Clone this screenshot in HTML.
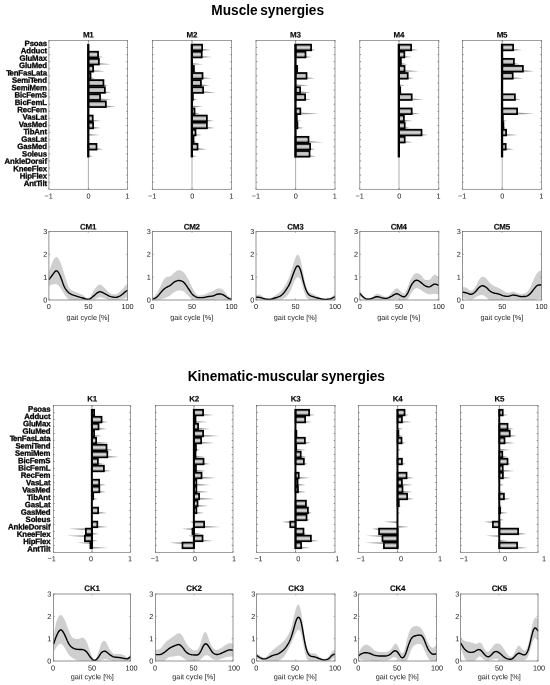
<!DOCTYPE html>
<html lang="en"><head><meta charset="utf-8"><title>Muscle synergies</title>
<style>html,body{margin:0;padding:0;background:#fff}body{width:550px;height:685px;overflow:hidden}svg{display:block;filter:blur(0.4px)}</style></head>
<body>
<svg width="550" height="685" viewBox="0 0 550 685" font-family='"Liberation Sans", Arial, Helvetica, sans-serif'>
<rect width="550" height="685" fill="#fff"/>
<text x="267.7" y="15.4" font-size="14" word-spacing="-1.2" font-weight="bold" text-anchor="middle" fill="#000" textLength="112.7" lengthAdjust="spacingAndGlyphs">Muscle synergies</text>
<text x="286.3" y="381.2" font-size="14" word-spacing="-1.2" font-weight="bold" text-anchor="middle" fill="#000" textLength="197.3" lengthAdjust="spacingAndGlyphs">Kinematic-muscular synergies</text>
<text x="46.9" y="45.95" font-size="7.8" font-weight="bold" text-anchor="end" fill="#000" letter-spacing="-0.13" stroke="#000" stroke-width=".28" transform="rotate(0.05 46.9 45.95)">Psoas</text>
<text x="50.4" y="411.65" font-size="7.8" font-weight="bold" text-anchor="end" fill="#000" letter-spacing="-0.13" stroke="#000" stroke-width=".28" transform="rotate(0.05 50.4 411.65)">Psoas</text>
<text x="46.9" y="53.32" font-size="7.8" font-weight="bold" text-anchor="end" fill="#000" letter-spacing="-0.13" stroke="#000" stroke-width=".28" transform="rotate(0.05 46.9 53.32)">Adduct</text>
<text x="50.4" y="419.01" font-size="7.8" font-weight="bold" text-anchor="end" fill="#000" letter-spacing="-0.13" stroke="#000" stroke-width=".28" transform="rotate(0.05 50.4 419.01)">Adduct</text>
<text x="46.9" y="60.69" font-size="7.8" font-weight="bold" text-anchor="end" fill="#000" letter-spacing="-0.13" stroke="#000" stroke-width=".28" transform="rotate(0.05 46.9 60.69)">GluMax</text>
<text x="50.4" y="426.37" font-size="7.8" font-weight="bold" text-anchor="end" fill="#000" letter-spacing="-0.13" stroke="#000" stroke-width=".28" transform="rotate(0.05 50.4 426.37)">GluMax</text>
<text x="46.9" y="68.06" font-size="7.8" font-weight="bold" text-anchor="end" fill="#000" letter-spacing="-0.13" stroke="#000" stroke-width=".28" transform="rotate(0.05 46.9 68.06)">GluMed</text>
<text x="50.4" y="433.73" font-size="7.8" font-weight="bold" text-anchor="end" fill="#000" letter-spacing="-0.13" stroke="#000" stroke-width=".28" transform="rotate(0.05 50.4 433.73)">GluMed</text>
<text x="46.9" y="75.43" font-size="7.8" font-weight="bold" text-anchor="end" fill="#000" letter-spacing="-0.13" stroke="#000" stroke-width=".28" dx="0 -0.75" transform="rotate(0.05 46.9 75.43)">TenFasLata</text>
<text x="50.4" y="441.09" font-size="7.8" font-weight="bold" text-anchor="end" fill="#000" letter-spacing="-0.13" stroke="#000" stroke-width=".28" dx="0 -0.75" transform="rotate(0.05 50.4 441.09)">TenFasLata</text>
<text x="46.9" y="82.8" font-size="7.8" font-weight="bold" text-anchor="end" fill="#000" letter-spacing="-0.13" stroke="#000" stroke-width=".28" dx="0 0 0 0 0 -0.75" transform="rotate(0.05 46.9 82.8)">SemiTend</text>
<text x="50.4" y="448.45" font-size="7.8" font-weight="bold" text-anchor="end" fill="#000" letter-spacing="-0.13" stroke="#000" stroke-width=".28" dx="0 0 0 0 0 -0.75" transform="rotate(0.05 50.4 448.45)">SemiTend</text>
<text x="46.9" y="90.17" font-size="7.8" font-weight="bold" text-anchor="end" fill="#000" letter-spacing="-0.13" stroke="#000" stroke-width=".28" transform="rotate(0.05 46.9 90.17)">SemiMem</text>
<text x="50.4" y="455.81" font-size="7.8" font-weight="bold" text-anchor="end" fill="#000" letter-spacing="-0.13" stroke="#000" stroke-width=".28" transform="rotate(0.05 50.4 455.81)">SemiMem</text>
<text x="46.9" y="97.54" font-size="7.8" font-weight="bold" text-anchor="end" fill="#000" letter-spacing="-0.13" stroke="#000" stroke-width=".28" transform="rotate(0.05 46.9 97.54)">BicFemS</text>
<text x="50.4" y="463.17" font-size="7.8" font-weight="bold" text-anchor="end" fill="#000" letter-spacing="-0.13" stroke="#000" stroke-width=".28" transform="rotate(0.05 50.4 463.17)">BicFemS</text>
<text x="46.9" y="104.91" font-size="7.8" font-weight="bold" text-anchor="end" fill="#000" letter-spacing="-0.13" stroke="#000" stroke-width=".28" transform="rotate(0.05 46.9 104.91)">BicFemL</text>
<text x="50.4" y="470.53" font-size="7.8" font-weight="bold" text-anchor="end" fill="#000" letter-spacing="-0.13" stroke="#000" stroke-width=".28" transform="rotate(0.05 50.4 470.53)">BicFemL</text>
<text x="46.9" y="112.28" font-size="7.8" font-weight="bold" text-anchor="end" fill="#000" letter-spacing="-0.13" stroke="#000" stroke-width=".28" transform="rotate(0.05 46.9 112.28)">RecFem</text>
<text x="50.4" y="477.89" font-size="7.8" font-weight="bold" text-anchor="end" fill="#000" letter-spacing="-0.13" stroke="#000" stroke-width=".28" transform="rotate(0.05 50.4 477.89)">RecFem</text>
<text x="46.9" y="119.65" font-size="7.8" font-weight="bold" text-anchor="end" fill="#000" letter-spacing="-0.13" stroke="#000" stroke-width=".28" transform="rotate(0.05 46.9 119.65)">VasLat</text>
<text x="50.4" y="485.25" font-size="7.8" font-weight="bold" text-anchor="end" fill="#000" letter-spacing="-0.13" stroke="#000" stroke-width=".28" transform="rotate(0.05 50.4 485.25)">VasLat</text>
<text x="46.9" y="127.02" font-size="7.8" font-weight="bold" text-anchor="end" fill="#000" letter-spacing="-0.13" stroke="#000" stroke-width=".28" transform="rotate(0.05 46.9 127.02)">VasMed</text>
<text x="50.4" y="492.61" font-size="7.8" font-weight="bold" text-anchor="end" fill="#000" letter-spacing="-0.13" stroke="#000" stroke-width=".28" transform="rotate(0.05 50.4 492.61)">VasMed</text>
<text x="46.9" y="134.39" font-size="7.8" font-weight="bold" text-anchor="end" fill="#000" letter-spacing="-0.13" stroke="#000" stroke-width=".28" dx="0 -0.4" transform="rotate(0.05 46.9 134.39)">TibAnt</text>
<text x="50.4" y="499.97" font-size="7.8" font-weight="bold" text-anchor="end" fill="#000" letter-spacing="-0.13" stroke="#000" stroke-width=".28" dx="0 -0.4" transform="rotate(0.05 50.4 499.97)">TibAnt</text>
<text x="46.9" y="141.76" font-size="7.8" font-weight="bold" text-anchor="end" fill="#000" letter-spacing="-0.13" stroke="#000" stroke-width=".28" transform="rotate(0.05 46.9 141.76)">GasLat</text>
<text x="50.4" y="507.33" font-size="7.8" font-weight="bold" text-anchor="end" fill="#000" letter-spacing="-0.13" stroke="#000" stroke-width=".28" transform="rotate(0.05 50.4 507.33)">GasLat</text>
<text x="46.9" y="149.13" font-size="7.8" font-weight="bold" text-anchor="end" fill="#000" letter-spacing="-0.13" stroke="#000" stroke-width=".28" transform="rotate(0.05 46.9 149.13)">GasMed</text>
<text x="50.4" y="514.69" font-size="7.8" font-weight="bold" text-anchor="end" fill="#000" letter-spacing="-0.13" stroke="#000" stroke-width=".28" transform="rotate(0.05 50.4 514.69)">GasMed</text>
<text x="46.9" y="156.5" font-size="7.8" font-weight="bold" text-anchor="end" fill="#000" letter-spacing="-0.13" stroke="#000" stroke-width=".28" transform="rotate(0.05 46.9 156.5)">Soleus</text>
<text x="50.4" y="522.05" font-size="7.8" font-weight="bold" text-anchor="end" fill="#000" letter-spacing="-0.13" stroke="#000" stroke-width=".28" transform="rotate(0.05 50.4 522.05)">Soleus</text>
<text x="46.9" y="163.87" font-size="7.8" font-weight="bold" text-anchor="end" fill="#000" letter-spacing="-0.13" stroke="#000" stroke-width=".28" transform="rotate(0.05 46.9 163.87)">AnkleDorsif</text>
<text x="50.4" y="529.41" font-size="7.8" font-weight="bold" text-anchor="end" fill="#000" letter-spacing="-0.13" stroke="#000" stroke-width=".28" transform="rotate(0.05 50.4 529.41)">AnkleDorsif</text>
<text x="46.9" y="171.24" font-size="7.8" font-weight="bold" text-anchor="end" fill="#000" letter-spacing="-0.13" stroke="#000" stroke-width=".28" transform="rotate(0.05 46.9 171.24)">KneeFlex</text>
<text x="50.4" y="536.77" font-size="7.8" font-weight="bold" text-anchor="end" fill="#000" letter-spacing="-0.13" stroke="#000" stroke-width=".28" transform="rotate(0.05 50.4 536.77)">KneeFlex</text>
<text x="46.9" y="178.61" font-size="7.8" font-weight="bold" text-anchor="end" fill="#000" letter-spacing="-0.13" stroke="#000" stroke-width=".28" transform="rotate(0.05 46.9 178.61)">HipFlex</text>
<text x="50.4" y="544.13" font-size="7.8" font-weight="bold" text-anchor="end" fill="#000" letter-spacing="-0.13" stroke="#000" stroke-width=".28" transform="rotate(0.05 50.4 544.13)">HipFlex</text>
<text x="46.9" y="185.98" font-size="7.8" font-weight="bold" text-anchor="end" fill="#000" letter-spacing="-0.13" stroke="#000" stroke-width=".28" dx="0 0 0 0 -0.4" transform="rotate(0.05 46.9 185.98)">AntTilt</text>
<text x="50.4" y="551.49" font-size="7.8" font-weight="bold" text-anchor="end" fill="#000" letter-spacing="-0.13" stroke="#000" stroke-width=".28" dx="0 0 0 0 -0.4" transform="rotate(0.05 50.4 551.49)">AntTilt</text>
<g>
<path d="M97.65 55.88L103 57.08L97.65 57.78Z" fill="#8a8a8a" opacity=".85"/>
<path d="M98.47 62.97L111 64.17L98.47 64.87Z" fill="#8a8a8a" opacity=".85"/>
<path d="M92.69 70.06L105 71.26L92.69 71.96Z" fill="#8a8a8a" opacity=".85"/>
<path d="M90.09 77.15L95 78.35L90.09 79.05Z" fill="#8a8a8a" opacity=".85"/>
<path d="M103.04 84.24L108 85.44L103.04 86.14Z" fill="#8a8a8a" opacity=".85"/>
<path d="M104.45 91.33L111 92.53L104.45 93.23Z" fill="#8a8a8a" opacity=".85"/>
<path d="M99.65 98.42L112 99.62L99.65 100.32Z" fill="#8a8a8a" opacity=".85"/>
<path d="M105.44 105.51L116 106.71L105.44 107.41Z" fill="#8a8a8a" opacity=".85"/>
<path d="M92.3 119.7L101 120.9L92.3 121.6Z" fill="#8a8a8a" opacity=".85"/>
<path d="M92.69 126.79L101 127.99L92.69 128.69Z" fill="#8a8a8a" opacity=".85"/>
<path d="M88.4 133.88L100 135.08L88.4 135.78Z" fill="#8a8a8a" opacity=".85"/>
<path d="M96.07 148.06L103 149.26L96.07 149.96Z" fill="#8a8a8a" opacity=".85"/>
<path d="M88.4 155.15L93 156.35L88.4 157.05Z" fill="#8a8a8a" opacity=".85"/>
<line x1="88.4" y1="40.4" x2="88.4" y2="189.3" stroke="#8a8a8a" stroke-width=".7"/>
<rect x="88.4" y="51.74" width="9.65" height="5.67" fill="#bababa" stroke="#000" stroke-width="1.75"/>
<line x1="89.3" y1="54.58" x2="97.15" y2="54.58" stroke="#dedede" stroke-width=".8"/>
<rect x="88.4" y="58.84" width="10.47" height="5.67" fill="#bababa" stroke="#000" stroke-width="1.75"/>
<line x1="89.3" y1="61.67" x2="97.97" y2="61.67" stroke="#dedede" stroke-width=".8"/>
<rect x="88.4" y="65.93" width="4.69" height="5.67" fill="#bababa" stroke="#000" stroke-width="1.75"/>
<line x1="89.3" y1="68.76" x2="92.19" y2="68.76" stroke="#dedede" stroke-width=".8"/>
<rect x="88.4" y="73.02" width="2.09" height="5.67" fill="#bababa" stroke="#000" stroke-width="1.75"/>
<rect x="88.4" y="80.11" width="15.04" height="5.67" fill="#bababa" stroke="#000" stroke-width="1.75"/>
<line x1="89.3" y1="82.94" x2="102.54" y2="82.94" stroke="#dedede" stroke-width=".8"/>
<rect x="88.4" y="87.2" width="16.45" height="5.67" fill="#bababa" stroke="#000" stroke-width="1.75"/>
<line x1="89.3" y1="90.03" x2="103.95" y2="90.03" stroke="#dedede" stroke-width=".8"/>
<rect x="88.4" y="94.29" width="11.65" height="5.67" fill="#bababa" stroke="#000" stroke-width="1.75"/>
<line x1="89.3" y1="97.12" x2="99.15" y2="97.12" stroke="#dedede" stroke-width=".8"/>
<rect x="88.4" y="101.38" width="17.44" height="5.67" fill="#bababa" stroke="#000" stroke-width="1.75"/>
<line x1="89.3" y1="104.21" x2="104.94" y2="104.21" stroke="#dedede" stroke-width=".8"/>
<rect x="88.4" y="115.56" width="4.3" height="5.67" fill="#bababa" stroke="#000" stroke-width="1.75"/>
<line x1="89.3" y1="118.4" x2="91.8" y2="118.4" stroke="#dedede" stroke-width=".8"/>
<rect x="88.4" y="122.65" width="4.69" height="5.67" fill="#bababa" stroke="#000" stroke-width="1.75"/>
<line x1="89.3" y1="125.49" x2="92.19" y2="125.49" stroke="#dedede" stroke-width=".8"/>
<rect x="88.4" y="143.92" width="8.07" height="5.67" fill="#bababa" stroke="#000" stroke-width="1.75"/>
<line x1="89.3" y1="146.76" x2="95.57" y2="146.76" stroke="#dedede" stroke-width=".8"/>
<line x1="88.25" y1="43.9" x2="88.25" y2="157.43" stroke="#000" stroke-width="2.3"/>
<rect x="48.9" y="40.4" width="78.7" height="148.9" fill="none" stroke="#6c6c6c" stroke-width=".65"/>
<path d="M48.9 47.49h1.3M127.6 47.49h-1.3M48.9 54.58h1.3M127.6 54.58h-1.3M48.9 61.67h1.3M127.6 61.67h-1.3M48.9 68.76h1.3M127.6 68.76h-1.3M48.9 75.85h1.3M127.6 75.85h-1.3M48.9 82.94h1.3M127.6 82.94h-1.3M48.9 90.03h1.3M127.6 90.03h-1.3M48.9 97.12h1.3M127.6 97.12h-1.3M48.9 104.21h1.3M127.6 104.21h-1.3M48.9 111.3h1.3M127.6 111.3h-1.3M48.9 118.4h1.3M127.6 118.4h-1.3M48.9 125.49h1.3M127.6 125.49h-1.3M48.9 132.58h1.3M127.6 132.58h-1.3M48.9 139.67h1.3M127.6 139.67h-1.3M48.9 146.76h1.3M127.6 146.76h-1.3M48.9 153.85h1.3M127.6 153.85h-1.3M48.9 160.94h1.3M127.6 160.94h-1.3M48.9 168.03h1.3M127.6 168.03h-1.3M48.9 175.12h1.3M127.6 175.12h-1.3M48.9 182.21h1.3M127.6 182.21h-1.3M48.9 40.4v1.3M48.9 189.3v-1.3M88.4 40.4v1.3M88.4 189.3v-1.3M127.6 40.4v1.3M127.6 189.3v-1.3" stroke="#5a5a5a" stroke-width=".65" fill="none"/>
<text x="48.7" y="198.4" font-size="7.3" font-weight="normal" text-anchor="middle" fill="#1c1c1c" transform="rotate(0.05 48.7 198.4)">−1</text>
<text x="88.6" y="198.4" font-size="7.3" font-weight="normal" text-anchor="middle" fill="#1c1c1c" transform="rotate(0.05 88.6 198.4)">0</text>
<text x="127.4" y="198.4" font-size="7.3" font-weight="normal" text-anchor="middle" fill="#1c1c1c" transform="rotate(0.05 127.4 198.4)">1</text>
<text x="88.2" y="37.4" font-size="8.0" font-weight="bold" text-anchor="middle" fill="#0a0a0a" letter-spacing="-0.25" stroke="#0a0a0a" stroke-width=".15" transform="rotate(0.05 88.2 37.4)">M1</text>
</g>
<g>
<path d="M48.9 271.68L49.69 269.8L50.47 267.44L51.26 265.03L52.05 262.97L52.84 261.25L53.62 259.79L54.41 258.57L55.2 257.63L55.98 257.09L56.77 257.05L57.56 257.56L58.34 258.5L59.13 259.77L59.92 261.3L60.7 263.13L61.49 265.28L62.28 267.71L63.07 270.29L63.85 272.85L64.64 275.35L65.43 277.78L66.21 280.21L67 282.58L67.79 284.79L68.57 286.66L69.36 288.09L70.15 289.07L70.94 289.74L71.72 290.21L72.51 290.6L73.3 290.95L74.08 291.29L74.87 291.63L75.66 291.98L76.44 292.31L77.23 292.64L78.02 292.95L78.81 293.26L79.59 293.58L80.38 293.9L81.17 294.25L81.95 294.62L82.74 295.04L83.53 295.55L84.31 296.13L85.1 296.76L85.89 297.37L86.68 297.9L87.46 298.24L88.25 298.27L89.04 297.88L89.82 297.05L90.61 295.89L91.4 294.58L92.19 293.23L92.97 291.87L93.76 290.56L94.55 289.35L95.33 288.26L96.12 287.27L96.91 286.36L97.69 285.58L98.48 285L99.27 284.67L100.05 284.63L100.84 284.86L101.63 285.32L102.42 285.94L103.2 286.64L103.99 287.36L104.78 288.1L105.56 288.88L106.35 289.71L107.14 290.58L107.92 291.43L108.71 292.21L109.5 292.85L110.29 293.33L111.07 293.66L111.86 293.88L112.65 294.05L113.43 294.19L114.22 294.29L115.01 294.33L115.79 294.27L116.58 294.06L117.37 293.68L118.16 293.14L118.94 292.5L119.73 291.8L120.52 291.08L121.3 290.32L122.09 289.5L122.88 288.62L123.66 287.71L124.45 286.79L125.24 285.85L126.03 284.91L126.81 284.07L127.6 283.43L127.6 297.18L126.81 297.44L126.03 297.78L125.24 298.13L124.45 298.45L123.66 298.74L122.88 299.01L122.09 299.25L121.3 299.44L120.52 299.59L119.73 299.7L118.94 299.79L118.16 299.87L117.37 299.93L116.58 299.97L115.79 299.99L115.01 300L114.22 300L113.43 300L112.65 300L111.86 300L111.07 299.99L110.29 299.94L109.5 299.84L108.71 299.68L107.92 299.46L107.14 299.21L106.35 298.95L105.56 298.68L104.78 298.42L103.99 298.16L103.2 297.89L102.42 297.62L101.63 297.38L100.84 297.19L100.05 297.12L99.27 297.21L98.48 297.49L97.69 297.93L96.91 298.44L96.12 298.93L95.33 299.31L94.55 299.54L93.76 299.66L92.97 299.73L92.19 299.78L91.4 299.83L90.61 299.88L89.82 299.93L89.04 299.97L88.25 299.99L87.46 300L86.68 300L85.89 300L85.1 300L84.31 300L83.53 300L82.74 300L81.95 300L81.17 300L80.38 300L79.59 300L78.81 300L78.02 300L77.23 300L76.44 300L75.66 300L74.87 300L74.08 300L73.3 300L72.51 300L71.72 300L70.94 299.99L70.15 299.93L69.36 299.73L68.57 299.31L67.79 298.65L67 297.79L66.21 296.8L65.43 295.76L64.64 294.66L63.85 293.47L63.07 292.17L62.28 290.81L61.49 289.48L60.7 288.25L59.92 287.15L59.13 286.17L58.34 285.33L57.56 284.67L56.77 284.26L55.98 284.09L55.2 284.09L54.41 284.17L53.62 284.29L52.84 284.44L52.05 284.64L51.26 284.9L50.47 285.22L49.69 285.55L48.9 285.81Z" fill="#cfcfcf"/>
<path d="M48.9 279.46L49.69 278.68L50.47 277.66L51.26 276.56L52.05 275.48L52.84 274.42L53.62 273.35L54.41 272.3L55.2 271.43L55.98 270.91L56.77 270.89L57.56 271.43L58.34 272.42L59.13 273.73L59.92 275.28L60.7 277.08L61.49 279.15L62.28 281.39L63.07 283.63L63.85 285.67L64.64 287.38L65.43 288.78L66.21 289.94L67 290.94L67.79 291.83L68.57 292.58L69.36 293.21L70.15 293.73L70.94 294.14L71.72 294.5L72.51 294.81L73.3 295.09L74.08 295.36L74.87 295.62L75.66 295.89L76.44 296.14L77.23 296.4L78.02 296.64L78.81 296.88L79.59 297.11L80.38 297.33L81.17 297.56L81.95 297.78L82.74 298L83.53 298.24L84.31 298.48L85.1 298.73L85.89 298.96L86.68 299.15L87.46 299.27L88.25 299.28L89.04 299.13L89.82 298.81L90.61 298.36L91.4 297.81L92.19 297.21L92.97 296.55L93.76 295.86L94.55 295.16L95.33 294.47L96.12 293.79L96.91 293.13L97.69 292.53L98.48 292.08L99.27 291.81L100.05 291.74L100.84 291.86L101.63 292.12L102.42 292.46L103.2 292.85L103.99 293.25L104.78 293.65L105.56 294.06L106.35 294.49L107.14 294.93L107.92 295.38L108.71 295.79L109.5 296.15L110.29 296.44L111.07 296.68L111.86 296.87L112.65 297.03L113.43 297.17L114.22 297.28L115.01 297.34L115.79 297.33L116.58 297.23L117.37 297.04L118.16 296.76L118.94 296.43L119.73 296.04L120.52 295.61L121.3 295.12L122.09 294.54L122.88 293.9L123.66 293.22L124.45 292.55L125.24 291.9L126.03 291.26L126.81 290.7L127.6 290.28" fill="none" stroke="#000" stroke-width="1.4" stroke-linejoin="round"/>
<rect x="48.9" y="231.4" width="78.7" height="68.6" fill="none" stroke="#787878" stroke-width=".8"/>
<path d="M48.9 300h1.4M127.6 300h-1.4M48.9 277.13h1.4M127.6 277.13h-1.4M48.9 254.27h1.4M127.6 254.27h-1.4M48.9 231.4h1.4M127.6 231.4h-1.4M48.9 231.4v1.4M48.9 300v-1.4M88.25 231.4v1.4M88.25 300v-1.4M127.6 231.4v1.4M127.6 300v-1.4" stroke="#787878" stroke-width=".6" fill="none"/>
<text x="47.2" y="302.6" font-size="7.3" font-weight="normal" text-anchor="end" fill="#1c1c1c" transform="rotate(0.05 47.2 302.6)">0</text>
<text x="47.2" y="279.73" font-size="7.3" font-weight="normal" text-anchor="end" fill="#1c1c1c" transform="rotate(0.05 47.2 279.73)">1</text>
<text x="47.2" y="256.87" font-size="7.3" font-weight="normal" text-anchor="end" fill="#1c1c1c" transform="rotate(0.05 47.2 256.87)">2</text>
<text x="47.2" y="234" font-size="7.3" font-weight="normal" text-anchor="end" fill="#1c1c1c" transform="rotate(0.05 47.2 234)">3</text>
<text x="48.9" y="309.1" font-size="7.3" font-weight="normal" text-anchor="middle" fill="#1c1c1c" transform="rotate(0.05 48.9 309.1)">0</text>
<text x="88.4" y="309.1" font-size="7.3" font-weight="normal" text-anchor="middle" fill="#1c1c1c" transform="rotate(0.05 88.4 309.1)">50</text>
<text x="127.6" y="309.1" font-size="7.3" font-weight="normal" text-anchor="middle" fill="#1c1c1c" transform="rotate(0.05 127.6 309.1)">100</text>
<text x="88.1" y="319.9" font-size="7.3" font-weight="normal" text-anchor="middle" fill="#1c1c1c" transform="rotate(0.05 88.1 319.9)">gait cycle [%]</text>
<text x="88.1" y="229.4" font-size="8.0" font-weight="bold" text-anchor="middle" fill="#0a0a0a" letter-spacing="-0.25" stroke="#0a0a0a" stroke-width=".15" transform="rotate(0.05 88.1 229.4)">CM1</text>
</g>
<g>
<path d="M201.7 48.79L211 49.99L201.7 50.69Z" fill="#8a8a8a" opacity=".85"/>
<path d="M201.31 55.88L212 57.08L201.31 57.78Z" fill="#8a8a8a" opacity=".85"/>
<path d="M192 62.97L203 64.17L192 64.87Z" fill="#8a8a8a" opacity=".85"/>
<path d="M193.5 70.06L196 71.26L193.5 71.96Z" fill="#8a8a8a" opacity=".85"/>
<path d="M202.1 77.15L212 78.35L202.1 79.05Z" fill="#8a8a8a" opacity=".85"/>
<path d="M200.51 84.24L210 85.44L200.51 86.14Z" fill="#8a8a8a" opacity=".85"/>
<path d="M202.69 91.33L216 92.53L202.69 93.23Z" fill="#8a8a8a" opacity=".85"/>
<path d="M192.48 98.42L198 99.62L192.48 100.32Z" fill="#8a8a8a" opacity=".85"/>
<path d="M192 105.51L203 106.71L192 107.41Z" fill="#8a8a8a" opacity=".85"/>
<path d="M194.1 112.6L200 113.8L194.1 114.5Z" fill="#8a8a8a" opacity=".85"/>
<path d="M206.49 119.7L214 120.9L206.49 121.6Z" fill="#8a8a8a" opacity=".85"/>
<path d="M206.49 126.79L215 127.99L206.49 128.69Z" fill="#8a8a8a" opacity=".85"/>
<path d="M195.09 133.88L202 135.08L195.09 135.78Z" fill="#8a8a8a" opacity=".85"/>
<path d="M193.11 140.97L198 142.17L193.11 142.87Z" fill="#8a8a8a" opacity=".85"/>
<path d="M197.11 148.06L207 149.26L197.11 149.96Z" fill="#8a8a8a" opacity=".85"/>
<path d="M192 155.15L197 156.35L192 157.05Z" fill="#8a8a8a" opacity=".85"/>
<line x1="192" y1="40.4" x2="192" y2="189.3" stroke="#8a8a8a" stroke-width=".7"/>
<rect x="192" y="44.65" width="10.1" height="5.67" fill="#bababa" stroke="#000" stroke-width="1.75"/>
<line x1="192.9" y1="47.49" x2="201.2" y2="47.49" stroke="#dedede" stroke-width=".8"/>
<rect x="192" y="51.74" width="9.71" height="5.67" fill="#bababa" stroke="#000" stroke-width="1.75"/>
<line x1="192.9" y1="54.58" x2="200.81" y2="54.58" stroke="#dedede" stroke-width=".8"/>
<rect x="192" y="65.93" width="1.9" height="5.67" fill="#bababa" stroke="#000" stroke-width="1.75"/>
<rect x="192" y="73.02" width="10.5" height="5.67" fill="#bababa" stroke="#000" stroke-width="1.75"/>
<line x1="192.9" y1="75.85" x2="201.6" y2="75.85" stroke="#dedede" stroke-width=".8"/>
<rect x="192" y="80.11" width="8.91" height="5.67" fill="#bababa" stroke="#000" stroke-width="1.75"/>
<line x1="192.9" y1="82.94" x2="200.01" y2="82.94" stroke="#dedede" stroke-width=".8"/>
<rect x="192" y="87.2" width="11.09" height="5.67" fill="#bababa" stroke="#000" stroke-width="1.75"/>
<line x1="192.9" y1="90.03" x2="202.19" y2="90.03" stroke="#dedede" stroke-width=".8"/>
<rect x="192" y="94.29" width="0.88" height="5.67" fill="#bababa" stroke="#000" stroke-width="1.75"/>
<rect x="192" y="108.47" width="2.5" height="5.67" fill="#bababa" stroke="#000" stroke-width="1.75"/>
<line x1="192.9" y1="111.3" x2="193.6" y2="111.3" stroke="#dedede" stroke-width=".8"/>
<rect x="192" y="115.56" width="14.89" height="5.67" fill="#bababa" stroke="#000" stroke-width="1.75"/>
<line x1="192.9" y1="118.4" x2="205.99" y2="118.4" stroke="#dedede" stroke-width=".8"/>
<rect x="192" y="122.65" width="14.89" height="5.67" fill="#bababa" stroke="#000" stroke-width="1.75"/>
<line x1="192.9" y1="125.49" x2="205.99" y2="125.49" stroke="#dedede" stroke-width=".8"/>
<rect x="192" y="129.74" width="3.49" height="5.67" fill="#bababa" stroke="#000" stroke-width="1.75"/>
<line x1="192.9" y1="132.58" x2="194.59" y2="132.58" stroke="#dedede" stroke-width=".8"/>
<rect x="192" y="136.83" width="1.51" height="5.67" fill="#bababa" stroke="#000" stroke-width="1.75"/>
<rect x="192" y="143.92" width="5.51" height="5.67" fill="#bababa" stroke="#000" stroke-width="1.75"/>
<line x1="192.9" y1="146.76" x2="196.61" y2="146.76" stroke="#dedede" stroke-width=".8"/>
<line x1="191.85" y1="43.9" x2="191.85" y2="157.43" stroke="#000" stroke-width="2.3"/>
<rect x="152.4" y="40.4" width="79.2" height="148.9" fill="none" stroke="#6c6c6c" stroke-width=".65"/>
<path d="M152.4 47.49h1.3M231.6 47.49h-1.3M152.4 54.58h1.3M231.6 54.58h-1.3M152.4 61.67h1.3M231.6 61.67h-1.3M152.4 68.76h1.3M231.6 68.76h-1.3M152.4 75.85h1.3M231.6 75.85h-1.3M152.4 82.94h1.3M231.6 82.94h-1.3M152.4 90.03h1.3M231.6 90.03h-1.3M152.4 97.12h1.3M231.6 97.12h-1.3M152.4 104.21h1.3M231.6 104.21h-1.3M152.4 111.3h1.3M231.6 111.3h-1.3M152.4 118.4h1.3M231.6 118.4h-1.3M152.4 125.49h1.3M231.6 125.49h-1.3M152.4 132.58h1.3M231.6 132.58h-1.3M152.4 139.67h1.3M231.6 139.67h-1.3M152.4 146.76h1.3M231.6 146.76h-1.3M152.4 153.85h1.3M231.6 153.85h-1.3M152.4 160.94h1.3M231.6 160.94h-1.3M152.4 168.03h1.3M231.6 168.03h-1.3M152.4 175.12h1.3M231.6 175.12h-1.3M152.4 182.21h1.3M231.6 182.21h-1.3M152.4 40.4v1.3M152.4 189.3v-1.3M192 40.4v1.3M192 189.3v-1.3M231.6 40.4v1.3M231.6 189.3v-1.3" stroke="#5a5a5a" stroke-width=".65" fill="none"/>
<text x="152.2" y="198.4" font-size="7.3" font-weight="normal" text-anchor="middle" fill="#1c1c1c" transform="rotate(0.05 152.2 198.4)">−1</text>
<text x="192.2" y="198.4" font-size="7.3" font-weight="normal" text-anchor="middle" fill="#1c1c1c" transform="rotate(0.05 192.2 198.4)">0</text>
<text x="231.4" y="198.4" font-size="7.3" font-weight="normal" text-anchor="middle" fill="#1c1c1c" transform="rotate(0.05 231.4 198.4)">1</text>
<text x="191.8" y="37.4" font-size="8.0" font-weight="bold" text-anchor="middle" fill="#0a0a0a" letter-spacing="-0.25" stroke="#0a0a0a" stroke-width=".15" transform="rotate(0.05 191.8 37.4)">M2</text>
</g>
<g>
<path d="M152.4 297.54L153.19 297.12L153.98 296.49L154.78 295.7L155.57 294.79L156.36 293.78L157.15 292.63L157.94 291.3L158.74 289.78L159.53 288.12L160.32 286.42L161.11 284.78L161.9 283.21L162.7 281.71L163.49 280.28L164.28 279L165.07 277.98L165.86 277.3L166.66 276.94L167.45 276.76L168.24 276.65L169.03 276.53L169.82 276.32L170.62 275.96L171.41 275.41L172.2 274.7L172.99 273.9L173.78 273.11L174.58 272.4L175.37 271.78L176.16 271.24L176.95 270.77L177.74 270.4L178.54 270.17L179.33 270.13L180.12 270.25L180.91 270.51L181.7 270.88L182.5 271.35L183.29 271.95L184.08 272.75L184.87 273.76L185.66 274.97L186.46 276.29L187.25 277.68L188.04 279.12L188.83 280.62L189.62 282.22L190.42 283.88L191.21 285.53L192 287.11L192.79 288.59L193.58 289.99L194.38 291.36L195.17 292.65L195.96 293.8L196.75 294.68L197.54 295.24L198.34 295.48L199.13 295.52L199.92 295.47L200.71 295.37L201.5 295.25L202.3 295.11L203.09 294.94L203.88 294.73L204.67 294.45L205.46 294.13L206.26 293.78L207.05 293.42L207.84 293.08L208.63 292.76L209.42 292.44L210.22 292.14L211.01 291.83L211.8 291.5L212.59 291.15L213.38 290.75L214.18 290.28L214.97 289.78L215.76 289.3L216.55 288.89L217.34 288.61L218.14 288.46L218.93 288.41L219.72 288.4L220.51 288.45L221.3 288.63L222.1 289.04L222.89 289.68L223.68 290.49L224.47 291.4L225.26 292.37L226.06 293.41L226.85 294.48L227.64 295.5L228.43 296.36L229.22 297.01L230.02 297.46L230.81 297.75L231.6 297.92L231.6 300L230.81 300L230.02 300L229.22 300L228.43 300L227.64 300L226.85 300L226.06 300L225.26 299.97L224.47 299.89L223.68 299.75L222.89 299.57L222.1 299.4L221.3 299.29L220.51 299.25L219.72 299.27L218.93 299.32L218.14 299.4L217.34 299.49L216.55 299.59L215.76 299.71L214.97 299.82L214.18 299.91L213.38 299.96L212.59 299.99L211.8 300L211.01 300L210.22 300L209.42 300L208.63 300L207.84 300L207.05 300L206.26 300L205.46 300L204.67 300L203.88 300L203.09 300L202.3 300L201.5 300L200.71 300L199.92 300L199.13 300L198.34 300L197.54 299.98L196.75 299.96L195.96 299.91L195.17 299.85L194.38 299.77L193.58 299.65L192.79 299.44L192 299.09L191.21 298.57L190.42 297.91L189.62 297.17L188.83 296.4L188.04 295.62L187.25 294.82L186.46 293.99L185.66 293.14L184.87 292.35L184.08 291.71L183.29 291.23L182.5 290.93L181.7 290.72L180.91 290.58L180.12 290.49L179.33 290.45L178.54 290.49L177.74 290.63L176.95 290.84L176.16 291.13L175.37 291.48L174.58 291.91L173.78 292.44L172.99 293.07L172.2 293.77L171.41 294.46L170.62 295.1L169.82 295.65L169.03 296.13L168.24 296.56L167.45 296.95L166.66 297.31L165.86 297.64L165.07 297.96L164.28 298.26L163.49 298.54L162.7 298.79L161.9 299.02L161.11 299.24L160.32 299.44L159.53 299.63L158.74 299.79L157.94 299.9L157.15 299.97L156.36 299.99L155.57 300L154.78 300L153.98 300L153.19 300L152.4 300Z" fill="#cfcfcf"/>
<path d="M152.4 299.11L153.19 298.95L153.98 298.69L154.78 298.33L155.57 297.89L156.36 297.38L157.15 296.78L157.94 296.03L158.74 295.14L159.53 294.13L160.32 293.09L161.11 292.09L161.9 291.17L162.7 290.35L163.49 289.61L164.28 288.92L165.07 288.29L165.86 287.74L166.66 287.27L167.45 286.86L168.24 286.47L169.03 286.08L169.82 285.63L170.62 285.09L171.41 284.46L172.2 283.76L172.99 283.07L173.78 282.44L174.58 281.9L175.37 281.47L176.16 281.13L176.95 280.84L177.74 280.62L178.54 280.5L179.33 280.49L180.12 280.58L180.91 280.78L181.7 281.06L182.5 281.42L183.29 281.92L184.08 282.6L184.87 283.5L185.66 284.56L186.46 285.71L187.25 286.89L188.04 288.06L188.83 289.25L189.62 290.47L190.42 291.68L191.21 292.84L192 293.86L192.79 294.7L193.58 295.4L194.38 296L195.17 296.51L195.96 296.95L196.75 297.27L197.54 297.47L198.34 297.57L199.13 297.6L199.92 297.6L200.71 297.6L201.5 297.6L202.3 297.59L203.09 297.56L203.88 297.49L204.67 297.36L205.46 297.19L206.26 297L207.05 296.81L207.84 296.65L208.63 296.53L209.42 296.43L210.22 296.35L211.01 296.26L211.8 296.16L212.59 296.03L213.38 295.82L214.18 295.53L214.97 295.16L215.76 294.77L216.55 294.43L217.34 294.19L218.14 294.06L218.93 294.01L219.72 294L220.51 294.03L221.3 294.13L222.1 294.36L222.89 294.72L223.68 295.17L224.47 295.67L225.26 296.18L226.06 296.71L226.85 297.26L227.64 297.78L228.43 298.25L229.22 298.64L230.02 298.94L230.81 299.17L231.6 299.31" fill="none" stroke="#000" stroke-width="1.4" stroke-linejoin="round"/>
<rect x="152.4" y="231.4" width="79.2" height="68.6" fill="none" stroke="#787878" stroke-width=".8"/>
<path d="M152.4 300h1.4M231.6 300h-1.4M152.4 277.13h1.4M231.6 277.13h-1.4M152.4 254.27h1.4M231.6 254.27h-1.4M152.4 231.4h1.4M231.6 231.4h-1.4M152.4 231.4v1.4M152.4 300v-1.4M192 231.4v1.4M192 300v-1.4M231.6 231.4v1.4M231.6 300v-1.4" stroke="#787878" stroke-width=".6" fill="none"/>
<text x="150.7" y="302.6" font-size="7.3" font-weight="normal" text-anchor="end" fill="#1c1c1c" transform="rotate(0.05 150.7 302.6)">0</text>
<text x="150.7" y="279.73" font-size="7.3" font-weight="normal" text-anchor="end" fill="#1c1c1c" transform="rotate(0.05 150.7 279.73)">1</text>
<text x="150.7" y="256.87" font-size="7.3" font-weight="normal" text-anchor="end" fill="#1c1c1c" transform="rotate(0.05 150.7 256.87)">2</text>
<text x="150.7" y="234" font-size="7.3" font-weight="normal" text-anchor="end" fill="#1c1c1c" transform="rotate(0.05 150.7 234)">3</text>
<text x="152.4" y="309.1" font-size="7.3" font-weight="normal" text-anchor="middle" fill="#1c1c1c" transform="rotate(0.05 152.4 309.1)">0</text>
<text x="192" y="309.1" font-size="7.3" font-weight="normal" text-anchor="middle" fill="#1c1c1c" transform="rotate(0.05 192 309.1)">50</text>
<text x="231.6" y="309.1" font-size="7.3" font-weight="normal" text-anchor="middle" fill="#1c1c1c" transform="rotate(0.05 231.6 309.1)">100</text>
<text x="191.7" y="319.9" font-size="7.3" font-weight="normal" text-anchor="middle" fill="#1c1c1c" transform="rotate(0.05 191.7 319.9)">gait cycle [%]</text>
<text x="191.7" y="229.4" font-size="8.0" font-weight="bold" text-anchor="middle" fill="#0a0a0a" letter-spacing="-0.25" stroke="#0a0a0a" stroke-width=".15" transform="rotate(0.05 191.7 229.4)">CM2</text>
</g>
<g>
<path d="M310.69 48.79L315 49.99L310.69 50.69Z" fill="#8a8a8a" opacity=".85"/>
<path d="M305.08 55.88L312 57.08L305.08 57.78Z" fill="#8a8a8a" opacity=".85"/>
<path d="M296.79 70.06L298 71.26L296.79 71.96Z" fill="#8a8a8a" opacity=".85"/>
<path d="M306.11 77.15L315 78.35L306.11 79.05Z" fill="#8a8a8a" opacity=".85"/>
<path d="M295.6 84.24L309 85.44L295.6 86.14Z" fill="#8a8a8a" opacity=".85"/>
<path d="M299.71 91.33L311 92.53L299.71 93.23Z" fill="#8a8a8a" opacity=".85"/>
<path d="M304.69 98.42L311 99.62L304.69 100.32Z" fill="#8a8a8a" opacity=".85"/>
<path d="M299.91 112.6L319 113.8L299.91 114.5Z" fill="#8a8a8a" opacity=".85"/>
<path d="M296.39 119.7L301 120.9L296.39 121.6Z" fill="#8a8a8a" opacity=".85"/>
<path d="M296.98 126.79L304 127.99L296.98 128.69Z" fill="#8a8a8a" opacity=".85"/>
<path d="M308.08 140.97L323 142.17L308.08 142.87Z" fill="#8a8a8a" opacity=".85"/>
<path d="M309.7 148.06L315 149.26L309.7 149.96Z" fill="#8a8a8a" opacity=".85"/>
<path d="M309.11 155.15L316 156.35L309.11 157.05Z" fill="#8a8a8a" opacity=".85"/>
<line x1="295.6" y1="40.4" x2="295.6" y2="189.3" stroke="#8a8a8a" stroke-width=".7"/>
<rect x="295.6" y="44.65" width="15.49" height="5.67" fill="#bababa" stroke="#000" stroke-width="1.75"/>
<line x1="296.5" y1="47.49" x2="310.19" y2="47.49" stroke="#dedede" stroke-width=".8"/>
<rect x="295.6" y="51.74" width="9.88" height="5.67" fill="#bababa" stroke="#000" stroke-width="1.75"/>
<line x1="296.5" y1="54.58" x2="304.58" y2="54.58" stroke="#dedede" stroke-width=".8"/>
<rect x="295.6" y="65.93" width="1.58" height="5.67" fill="#bababa" stroke="#000" stroke-width="1.75"/>
<rect x="295.6" y="73.02" width="10.91" height="5.67" fill="#bababa" stroke="#000" stroke-width="1.75"/>
<line x1="296.5" y1="75.85" x2="305.61" y2="75.85" stroke="#dedede" stroke-width=".8"/>
<rect x="295.6" y="87.2" width="4.51" height="5.67" fill="#bababa" stroke="#000" stroke-width="1.75"/>
<line x1="296.5" y1="90.03" x2="299.21" y2="90.03" stroke="#dedede" stroke-width=".8"/>
<rect x="295.6" y="94.29" width="9.48" height="5.67" fill="#bababa" stroke="#000" stroke-width="1.75"/>
<line x1="296.5" y1="97.12" x2="304.19" y2="97.12" stroke="#dedede" stroke-width=".8"/>
<rect x="295.6" y="108.47" width="4.71" height="5.67" fill="#bababa" stroke="#000" stroke-width="1.75"/>
<line x1="296.5" y1="111.3" x2="299.41" y2="111.3" stroke="#dedede" stroke-width=".8"/>
<rect x="295.6" y="115.56" width="1.19" height="5.67" fill="#bababa" stroke="#000" stroke-width="1.75"/>
<rect x="295.6" y="122.65" width="1.78" height="5.67" fill="#bababa" stroke="#000" stroke-width="1.75"/>
<rect x="295.6" y="136.83" width="12.88" height="5.67" fill="#bababa" stroke="#000" stroke-width="1.75"/>
<line x1="296.5" y1="139.67" x2="307.58" y2="139.67" stroke="#dedede" stroke-width=".8"/>
<rect x="295.6" y="143.92" width="14.5" height="5.67" fill="#bababa" stroke="#000" stroke-width="1.75"/>
<line x1="296.5" y1="146.76" x2="309.2" y2="146.76" stroke="#dedede" stroke-width=".8"/>
<rect x="295.6" y="151.01" width="13.91" height="5.67" fill="#bababa" stroke="#000" stroke-width="1.75"/>
<line x1="296.5" y1="153.85" x2="308.61" y2="153.85" stroke="#dedede" stroke-width=".8"/>
<line x1="295.45" y1="43.9" x2="295.45" y2="157.43" stroke="#000" stroke-width="2.3"/>
<rect x="256" y="40.4" width="79" height="148.9" fill="none" stroke="#6c6c6c" stroke-width=".65"/>
<path d="M256 47.49h1.3M335 47.49h-1.3M256 54.58h1.3M335 54.58h-1.3M256 61.67h1.3M335 61.67h-1.3M256 68.76h1.3M335 68.76h-1.3M256 75.85h1.3M335 75.85h-1.3M256 82.94h1.3M335 82.94h-1.3M256 90.03h1.3M335 90.03h-1.3M256 97.12h1.3M335 97.12h-1.3M256 104.21h1.3M335 104.21h-1.3M256 111.3h1.3M335 111.3h-1.3M256 118.4h1.3M335 118.4h-1.3M256 125.49h1.3M335 125.49h-1.3M256 132.58h1.3M335 132.58h-1.3M256 139.67h1.3M335 139.67h-1.3M256 146.76h1.3M335 146.76h-1.3M256 153.85h1.3M335 153.85h-1.3M256 160.94h1.3M335 160.94h-1.3M256 168.03h1.3M335 168.03h-1.3M256 175.12h1.3M335 175.12h-1.3M256 182.21h1.3M335 182.21h-1.3M256 40.4v1.3M256 189.3v-1.3M295.6 40.4v1.3M295.6 189.3v-1.3M335 40.4v1.3M335 189.3v-1.3" stroke="#5a5a5a" stroke-width=".65" fill="none"/>
<text x="255.8" y="198.4" font-size="7.3" font-weight="normal" text-anchor="middle" fill="#1c1c1c" transform="rotate(0.05 255.8 198.4)">−1</text>
<text x="295.8" y="198.4" font-size="7.3" font-weight="normal" text-anchor="middle" fill="#1c1c1c" transform="rotate(0.05 295.8 198.4)">0</text>
<text x="334.8" y="198.4" font-size="7.3" font-weight="normal" text-anchor="middle" fill="#1c1c1c" transform="rotate(0.05 334.8 198.4)">1</text>
<text x="295.4" y="37.4" font-size="8.0" font-weight="bold" text-anchor="middle" fill="#0a0a0a" letter-spacing="-0.25" stroke="#0a0a0a" stroke-width=".15" transform="rotate(0.05 295.4 37.4)">M3</text>
</g>
<g>
<path d="M256 295.53L256.79 295.19L257.58 294.84L258.37 294.58L259.16 294.5L259.95 294.62L260.74 295L261.53 295.62L262.32 296.31L263.11 296.9L263.9 297.34L264.69 297.67L265.48 297.94L266.27 298.17L267.06 298.35L267.85 298.48L268.64 298.53L269.43 298.48L270.22 298.31L271.01 298.02L271.8 297.62L272.59 297.16L273.38 296.66L274.17 296.14L274.96 295.63L275.75 295.12L276.54 294.6L277.33 294.06L278.12 293.48L278.91 292.85L279.7 292.18L280.49 291.45L281.28 290.65L282.07 289.76L282.86 288.77L283.65 287.69L284.44 286.51L285.23 285.24L286.02 283.87L286.81 282.38L287.6 280.74L288.39 278.96L289.18 277.02L289.97 274.9L290.76 272.56L291.55 270.02L292.34 267.37L293.13 264.77L293.92 262.26L294.71 259.87L295.5 257.66L296.29 255.89L297.08 254.83L297.87 254.62L298.66 255.16L299.45 256.41L300.24 258.48L301.03 261.55L301.82 265.43L302.61 269.7L303.4 273.95L304.19 277.99L304.98 281.63L305.77 284.74L306.56 287.22L307.35 289.15L308.14 290.61L308.93 291.67L309.72 292.39L310.51 292.88L311.3 293.26L312.09 293.61L312.88 293.97L313.67 294.36L314.46 294.78L315.25 295.2L316.04 295.62L316.83 296.03L317.62 296.41L318.41 296.75L319.2 297.06L319.99 297.35L320.78 297.64L321.57 297.9L322.36 298.14L323.15 298.34L323.94 298.47L324.73 298.54L325.52 298.54L326.31 298.47L327.1 298.35L327.89 298.18L328.68 297.98L329.47 297.74L330.26 297.45L331.05 297.08L331.84 296.62L332.63 296.06L333.42 295.43L334.21 294.81L335 294.33L335 298.56L334.21 298.8L333.42 299.11L332.63 299.41L331.84 299.66L331.05 299.84L330.26 299.94L329.47 299.99L328.68 300L327.89 300L327.1 300L326.31 300L325.52 300L324.73 300L323.94 300L323.15 300L322.36 300L321.57 300L320.78 300L319.99 300L319.2 300L318.41 300L317.62 300L316.83 300L316.04 300L315.25 300L314.46 300L313.67 300L312.88 299.99L312.09 299.96L311.3 299.9L310.51 299.82L309.72 299.69L308.93 299.46L308.14 299.06L307.35 298.43L306.56 297.51L305.77 296.16L304.98 294.3L304.19 291.96L303.4 289.28L302.61 286.41L301.82 283.51L301.03 280.94L300.24 279.03L299.45 277.92L298.66 277.38L297.87 277.24L297.08 277.47L296.29 278.15L295.5 279.25L294.71 280.67L293.92 282.3L293.13 284.14L292.34 286.17L291.55 288.24L290.76 290.17L289.97 291.83L289.18 293.2L288.39 294.36L287.6 295.35L286.81 296.2L286.02 296.92L285.23 297.53L284.44 298.08L283.65 298.55L282.86 298.96L282.07 299.27L281.28 299.49L280.49 299.64L279.7 299.74L278.91 299.81L278.12 299.87L277.33 299.92L276.54 299.96L275.75 299.98L274.96 300L274.17 300L273.38 300L272.59 300L271.8 300L271.01 300L270.22 300L269.43 300L268.64 300L267.85 300L267.06 300L266.27 300L265.48 300L264.69 300L263.9 300L263.11 299.98L262.32 299.93L261.53 299.84L260.74 299.72L259.95 299.59L259.16 299.45L258.37 299.3L257.58 299.15L256.79 299L256 298.88Z" fill="#cfcfcf"/>
<path d="M256 297.21L256.79 297.22L257.58 297.24L258.37 297.28L259.16 297.35L259.95 297.45L260.74 297.63L261.53 297.88L262.32 298.14L263.11 298.39L263.9 298.6L264.69 298.79L265.48 298.96L266.27 299.11L267.06 299.23L267.85 299.32L268.64 299.36L269.43 299.34L270.22 299.27L271.01 299.13L271.8 298.95L272.59 298.74L273.38 298.5L274.17 298.26L274.96 298.01L275.75 297.77L276.54 297.52L277.33 297.25L278.12 296.96L278.91 296.63L279.7 296.27L280.49 295.84L281.28 295.33L282.07 294.69L282.86 293.93L283.65 293.04L284.44 292.07L285.23 291.03L286.02 289.93L286.81 288.75L287.6 287.48L288.39 286.1L289.18 284.58L289.97 282.88L290.76 280.96L291.55 278.82L292.34 276.57L293.13 274.36L293.92 272.24L294.71 270.24L295.5 268.42L296.29 266.96L297.08 266.09L297.87 265.93L298.66 266.41L299.45 267.48L300.24 269.2L301.03 271.71L301.82 274.81L302.61 278.14L303.4 281.33L304.19 284.26L304.98 286.88L305.77 289.15L306.56 291.05L307.35 292.61L308.14 293.83L308.93 294.72L309.72 295.32L310.51 295.73L311.3 296.04L312.09 296.31L312.88 296.57L313.67 296.83L314.46 297.09L315.25 297.35L316.04 297.6L316.83 297.84L317.62 298.05L318.41 298.25L319.2 298.44L319.99 298.62L320.78 298.8L321.57 298.96L322.36 299.11L323.15 299.23L323.94 299.32L324.73 299.37L325.52 299.38L326.31 299.35L327.1 299.31L327.89 299.24L328.68 299.16L329.47 299.05L330.26 298.9L331.05 298.67L331.84 298.36L332.63 297.95L333.42 297.48L334.21 297.02L335 296.65" fill="none" stroke="#000" stroke-width="1.4" stroke-linejoin="round"/>
<rect x="256" y="231.4" width="79" height="68.6" fill="none" stroke="#787878" stroke-width=".8"/>
<path d="M256 300h1.4M335 300h-1.4M256 277.13h1.4M335 277.13h-1.4M256 254.27h1.4M335 254.27h-1.4M256 231.4h1.4M335 231.4h-1.4M256 231.4v1.4M256 300v-1.4M295.5 231.4v1.4M295.5 300v-1.4M335 231.4v1.4M335 300v-1.4" stroke="#787878" stroke-width=".6" fill="none"/>
<text x="254.3" y="302.6" font-size="7.3" font-weight="normal" text-anchor="end" fill="#1c1c1c" transform="rotate(0.05 254.3 302.6)">0</text>
<text x="254.3" y="279.73" font-size="7.3" font-weight="normal" text-anchor="end" fill="#1c1c1c" transform="rotate(0.05 254.3 279.73)">1</text>
<text x="254.3" y="256.87" font-size="7.3" font-weight="normal" text-anchor="end" fill="#1c1c1c" transform="rotate(0.05 254.3 256.87)">2</text>
<text x="254.3" y="234" font-size="7.3" font-weight="normal" text-anchor="end" fill="#1c1c1c" transform="rotate(0.05 254.3 234)">3</text>
<text x="256" y="309.1" font-size="7.3" font-weight="normal" text-anchor="middle" fill="#1c1c1c" transform="rotate(0.05 256 309.1)">0</text>
<text x="295.6" y="309.1" font-size="7.3" font-weight="normal" text-anchor="middle" fill="#1c1c1c" transform="rotate(0.05 295.6 309.1)">50</text>
<text x="335" y="309.1" font-size="7.3" font-weight="normal" text-anchor="middle" fill="#1c1c1c" transform="rotate(0.05 335 309.1)">100</text>
<text x="295.3" y="319.9" font-size="7.3" font-weight="normal" text-anchor="middle" fill="#1c1c1c" transform="rotate(0.05 295.3 319.9)">gait cycle [%]</text>
<text x="295.3" y="229.4" font-size="8.0" font-weight="bold" text-anchor="middle" fill="#0a0a0a" letter-spacing="-0.25" stroke="#0a0a0a" stroke-width=".15" transform="rotate(0.05 295.3 229.4)">CM3</text>
</g>
<g>
<path d="M410.69 48.79L418 49.99L410.69 50.69Z" fill="#8a8a8a" opacity=".85"/>
<path d="M403.9 55.88L412 57.08L403.9 57.78Z" fill="#8a8a8a" opacity=".85"/>
<path d="M400.5 62.97L408 64.17L400.5 64.87Z" fill="#8a8a8a" opacity=".85"/>
<path d="M404.1 70.06L419 71.26L404.1 71.96Z" fill="#8a8a8a" opacity=".85"/>
<path d="M407.3 77.15L414 78.35L407.3 79.05Z" fill="#8a8a8a" opacity=".85"/>
<path d="M399 84.24L405 85.44L399 86.14Z" fill="#8a8a8a" opacity=".85"/>
<path d="M399.79 91.33L402 92.53L399.79 93.23Z" fill="#8a8a8a" opacity=".85"/>
<path d="M411.28 98.42L424 99.62L411.28 100.32Z" fill="#8a8a8a" opacity=".85"/>
<path d="M411.28 112.6L420 113.8L411.28 114.5Z" fill="#8a8a8a" opacity=".85"/>
<path d="M403.5 119.7L413 120.9L403.5 121.6Z" fill="#8a8a8a" opacity=".85"/>
<path d="M404.29 126.79L410 127.99L404.29 128.69Z" fill="#8a8a8a" opacity=".85"/>
<path d="M421.08 133.88L428 135.08L421.08 135.78Z" fill="#8a8a8a" opacity=".85"/>
<path d="M404.29 140.97L413 142.17L404.29 142.87Z" fill="#8a8a8a" opacity=".85"/>
<line x1="399" y1="40.4" x2="399" y2="189.3" stroke="#8a8a8a" stroke-width=".7"/>
<rect x="399" y="44.65" width="12.09" height="5.67" fill="#bababa" stroke="#000" stroke-width="1.75"/>
<line x1="399.9" y1="47.49" x2="410.19" y2="47.49" stroke="#dedede" stroke-width=".8"/>
<rect x="399" y="51.74" width="5.3" height="5.67" fill="#bababa" stroke="#000" stroke-width="1.75"/>
<line x1="399.9" y1="54.58" x2="403.4" y2="54.58" stroke="#dedede" stroke-width=".8"/>
<rect x="399" y="58.84" width="1.9" height="5.67" fill="#bababa" stroke="#000" stroke-width="1.75"/>
<rect x="399" y="65.93" width="5.5" height="5.67" fill="#bababa" stroke="#000" stroke-width="1.75"/>
<line x1="399.9" y1="68.76" x2="403.6" y2="68.76" stroke="#dedede" stroke-width=".8"/>
<rect x="399" y="73.02" width="8.69" height="5.67" fill="#bababa" stroke="#000" stroke-width="1.75"/>
<line x1="399.9" y1="75.85" x2="406.8" y2="75.85" stroke="#dedede" stroke-width=".8"/>
<rect x="399" y="87.2" width="1.19" height="5.67" fill="#bababa" stroke="#000" stroke-width="1.75"/>
<rect x="399" y="94.29" width="12.68" height="5.67" fill="#bababa" stroke="#000" stroke-width="1.75"/>
<line x1="399.9" y1="97.12" x2="410.78" y2="97.12" stroke="#dedede" stroke-width=".8"/>
<rect x="399" y="108.47" width="12.68" height="5.67" fill="#bababa" stroke="#000" stroke-width="1.75"/>
<line x1="399.9" y1="111.3" x2="410.78" y2="111.3" stroke="#dedede" stroke-width=".8"/>
<rect x="399" y="115.56" width="4.9" height="5.67" fill="#bababa" stroke="#000" stroke-width="1.75"/>
<line x1="399.9" y1="118.4" x2="403" y2="118.4" stroke="#dedede" stroke-width=".8"/>
<rect x="399" y="122.65" width="5.69" height="5.67" fill="#bababa" stroke="#000" stroke-width="1.75"/>
<line x1="399.9" y1="125.49" x2="403.79" y2="125.49" stroke="#dedede" stroke-width=".8"/>
<rect x="399" y="129.74" width="22.48" height="5.67" fill="#bababa" stroke="#000" stroke-width="1.75"/>
<line x1="399.9" y1="132.58" x2="420.58" y2="132.58" stroke="#dedede" stroke-width=".8"/>
<rect x="399" y="136.83" width="5.69" height="5.67" fill="#bababa" stroke="#000" stroke-width="1.75"/>
<line x1="399.9" y1="139.67" x2="403.79" y2="139.67" stroke="#dedede" stroke-width=".8"/>
<line x1="398.85" y1="43.9" x2="398.85" y2="157.43" stroke="#000" stroke-width="2.3"/>
<rect x="359.8" y="40.4" width="79" height="148.9" fill="none" stroke="#6c6c6c" stroke-width=".65"/>
<path d="M359.8 47.49h1.3M438.8 47.49h-1.3M359.8 54.58h1.3M438.8 54.58h-1.3M359.8 61.67h1.3M438.8 61.67h-1.3M359.8 68.76h1.3M438.8 68.76h-1.3M359.8 75.85h1.3M438.8 75.85h-1.3M359.8 82.94h1.3M438.8 82.94h-1.3M359.8 90.03h1.3M438.8 90.03h-1.3M359.8 97.12h1.3M438.8 97.12h-1.3M359.8 104.21h1.3M438.8 104.21h-1.3M359.8 111.3h1.3M438.8 111.3h-1.3M359.8 118.4h1.3M438.8 118.4h-1.3M359.8 125.49h1.3M438.8 125.49h-1.3M359.8 132.58h1.3M438.8 132.58h-1.3M359.8 139.67h1.3M438.8 139.67h-1.3M359.8 146.76h1.3M438.8 146.76h-1.3M359.8 153.85h1.3M438.8 153.85h-1.3M359.8 160.94h1.3M438.8 160.94h-1.3M359.8 168.03h1.3M438.8 168.03h-1.3M359.8 175.12h1.3M438.8 175.12h-1.3M359.8 182.21h1.3M438.8 182.21h-1.3M359.8 40.4v1.3M359.8 189.3v-1.3M399 40.4v1.3M399 189.3v-1.3M438.8 40.4v1.3M438.8 189.3v-1.3" stroke="#5a5a5a" stroke-width=".65" fill="none"/>
<text x="359.6" y="198.4" font-size="7.3" font-weight="normal" text-anchor="middle" fill="#1c1c1c" transform="rotate(0.05 359.6 198.4)">−1</text>
<text x="399.2" y="198.4" font-size="7.3" font-weight="normal" text-anchor="middle" fill="#1c1c1c" transform="rotate(0.05 399.2 198.4)">0</text>
<text x="438.6" y="198.4" font-size="7.3" font-weight="normal" text-anchor="middle" fill="#1c1c1c" transform="rotate(0.05 438.6 198.4)">1</text>
<text x="398.8" y="37.4" font-size="8.0" font-weight="bold" text-anchor="middle" fill="#0a0a0a" letter-spacing="-0.25" stroke="#0a0a0a" stroke-width=".15" transform="rotate(0.05 398.8 37.4)">M4</text>
</g>
<g>
<path d="M359.8 291.03L360.59 291.95L361.38 293.09L362.17 294.25L362.96 295.24L363.75 296.09L364.54 296.84L365.33 297.47L366.12 297.94L366.91 298.22L367.7 298.3L368.49 298.25L369.28 298.11L370.07 297.91L370.86 297.66L371.65 297.32L372.44 296.85L373.23 296.25L374.02 295.58L374.81 294.92L375.6 294.35L376.39 293.95L377.18 293.76L377.97 293.79L378.76 293.99L379.55 294.31L380.34 294.68L381.13 295.07L381.92 295.44L382.71 295.79L383.5 296.14L384.29 296.46L385.08 296.71L385.87 296.84L386.66 296.76L387.45 296.45L388.24 295.91L389.03 295.22L389.82 294.44L390.61 293.65L391.4 292.86L392.19 292.05L392.98 291.18L393.77 290.31L394.56 289.49L395.35 288.82L396.14 288.39L396.93 288.27L397.72 288.52L398.51 289.08L399.3 289.86L400.09 290.71L400.88 291.54L401.67 292.28L402.46 292.93L403.25 293.41L404.04 293.53L404.83 293.05L405.62 291.9L406.41 290.23L407.2 288.29L407.99 286.24L408.78 284.14L409.57 282.06L410.36 280.15L411.15 278.52L411.94 277.19L412.73 276.05L413.52 275.06L414.31 274.23L415.1 273.61L415.89 273.25L416.68 273.14L417.47 273.22L418.26 273.45L419.05 273.77L419.84 274.2L420.63 274.78L421.42 275.58L422.21 276.58L423 277.67L423.79 278.66L424.58 279.39L425.37 279.8L426.16 279.96L426.95 279.99L427.74 279.99L428.53 279.96L429.32 279.78L430.11 279.34L430.9 278.54L431.69 277.47L432.48 276.34L433.27 275.4L434.06 274.81L434.85 274.64L435.64 274.82L436.43 275.28L437.22 275.99L438.01 276.78L438.8 277.48L438.8 294.35L438.01 294.27L437.22 294.19L436.43 294.11L435.64 294.05L434.85 294.02L434.06 294.03L433.27 294.07L432.48 294.14L431.69 294.22L430.9 294.29L430.11 294.34L429.32 294.33L428.53 294.22L427.74 294.01L426.95 293.71L426.16 293.36L425.37 292.96L424.58 292.51L423.79 291.99L423 291.42L422.21 290.84L421.42 290.29L420.63 289.79L419.84 289.34L419.05 288.92L418.26 288.56L417.47 288.29L416.68 288.17L415.89 288.28L415.1 288.67L414.31 289.32L413.52 290.18L412.73 291.16L411.94 292.23L411.15 293.42L410.36 294.78L409.57 296.25L408.78 297.64L407.99 298.72L407.2 299.39L406.41 299.73L405.62 299.88L404.83 299.95L404.04 299.99L403.25 300L402.46 300L401.67 299.97L400.88 299.9L400.09 299.76L399.3 299.56L398.51 299.34L397.72 299.16L396.93 299.07L396.14 299.05L395.35 299.1L394.56 299.18L393.77 299.28L392.98 299.39L392.19 299.49L391.4 299.58L390.61 299.67L389.82 299.75L389.03 299.83L388.24 299.89L387.45 299.95L386.66 299.98L385.87 299.99L385.08 300L384.29 300L383.5 300L382.71 300L381.92 300L381.13 300L380.34 300L379.55 300L378.76 300L377.97 300L377.18 300L376.39 300L375.6 300L374.81 300L374.02 300L373.23 300L372.44 300L371.65 300L370.86 300L370.07 300L369.28 300L368.49 300L367.7 299.99L366.91 299.95L366.12 299.85L365.33 299.69L364.54 299.46L363.75 299.17L362.96 298.77L362.17 298.24L361.38 297.54L360.59 296.81L359.8 296.22Z" fill="#cfcfcf"/>
<path d="M359.8 293.66L360.59 294.32L361.38 295.15L362.17 296L362.96 296.74L363.75 297.39L364.54 297.97L365.33 298.46L366.12 298.83L366.91 299.05L367.7 299.12L368.49 299.08L369.28 298.97L370.07 298.83L370.86 298.66L371.65 298.45L372.44 298.19L373.23 297.88L374.02 297.55L374.81 297.23L375.6 296.96L376.39 296.77L377.18 296.7L377.97 296.75L378.76 296.91L379.55 297.15L380.34 297.42L381.13 297.68L381.92 297.89L382.71 298.05L383.5 298.17L384.29 298.26L385.08 298.33L385.87 298.35L386.66 298.29L387.45 298.13L388.24 297.87L389.03 297.52L389.82 297.13L390.61 296.73L391.4 296.32L392.19 295.88L392.98 295.4L393.77 294.91L394.56 294.45L395.35 294.07L396.14 293.82L396.93 293.76L397.72 293.92L398.51 294.27L399.3 294.74L400.09 295.25L400.88 295.72L401.67 296.13L402.46 296.47L403.25 296.71L404.04 296.78L404.83 296.56L405.62 296.01L406.41 295.14L407.2 293.98L407.99 292.54L408.78 290.81L409.57 288.93L410.36 287.11L411.15 285.52L411.94 284.2L412.73 283.08L413.52 282.09L414.31 281.25L415.1 280.63L415.89 280.27L416.68 280.19L417.47 280.36L418.26 280.71L419.05 281.16L419.84 281.67L420.63 282.23L421.42 282.86L422.21 283.54L423 284.25L423.79 284.91L424.58 285.48L425.37 285.92L426.16 286.26L426.95 286.53L427.74 286.73L428.53 286.86L429.32 286.85L430.11 286.64L430.9 286.22L431.69 285.65L432.48 285.04L433.27 284.53L434.06 284.22L434.85 284.11L435.64 284.17L436.43 284.37L437.22 284.68L438.01 285.04L438.8 285.36" fill="none" stroke="#000" stroke-width="1.4" stroke-linejoin="round"/>
<rect x="359.8" y="231.4" width="79" height="68.6" fill="none" stroke="#787878" stroke-width=".8"/>
<path d="M359.8 300h1.4M438.8 300h-1.4M359.8 277.13h1.4M438.8 277.13h-1.4M359.8 254.27h1.4M438.8 254.27h-1.4M359.8 231.4h1.4M438.8 231.4h-1.4M359.8 231.4v1.4M359.8 300v-1.4M399.3 231.4v1.4M399.3 300v-1.4M438.8 231.4v1.4M438.8 300v-1.4" stroke="#787878" stroke-width=".6" fill="none"/>
<text x="358.1" y="302.6" font-size="7.3" font-weight="normal" text-anchor="end" fill="#1c1c1c" transform="rotate(0.05 358.1 302.6)">0</text>
<text x="358.1" y="279.73" font-size="7.3" font-weight="normal" text-anchor="end" fill="#1c1c1c" transform="rotate(0.05 358.1 279.73)">1</text>
<text x="358.1" y="256.87" font-size="7.3" font-weight="normal" text-anchor="end" fill="#1c1c1c" transform="rotate(0.05 358.1 256.87)">2</text>
<text x="358.1" y="234" font-size="7.3" font-weight="normal" text-anchor="end" fill="#1c1c1c" transform="rotate(0.05 358.1 234)">3</text>
<text x="359.8" y="309.1" font-size="7.3" font-weight="normal" text-anchor="middle" fill="#1c1c1c" transform="rotate(0.05 359.8 309.1)">0</text>
<text x="399" y="309.1" font-size="7.3" font-weight="normal" text-anchor="middle" fill="#1c1c1c" transform="rotate(0.05 399 309.1)">50</text>
<text x="438.8" y="309.1" font-size="7.3" font-weight="normal" text-anchor="middle" fill="#1c1c1c" transform="rotate(0.05 438.8 309.1)">100</text>
<text x="398.7" y="319.9" font-size="7.3" font-weight="normal" text-anchor="middle" fill="#1c1c1c" transform="rotate(0.05 398.7 319.9)">gait cycle [%]</text>
<text x="398.7" y="229.4" font-size="8.0" font-weight="bold" text-anchor="middle" fill="#0a0a0a" letter-spacing="-0.25" stroke="#0a0a0a" stroke-width=".15" transform="rotate(0.05 398.7 229.4)">CM4</text>
</g>
<g>
<path d="M512.69 48.79L522 49.99L512.69 50.69Z" fill="#8a8a8a" opacity=".85"/>
<path d="M513.49 62.97L520 64.17L513.49 64.87Z" fill="#8a8a8a" opacity=".85"/>
<path d="M522.51 70.06L534 71.26L522.51 71.96Z" fill="#8a8a8a" opacity=".85"/>
<path d="M512.3 77.15L524 78.35L512.3 79.05Z" fill="#8a8a8a" opacity=".85"/>
<path d="M514.48 98.42L521 99.62L514.48 100.32Z" fill="#8a8a8a" opacity=".85"/>
<path d="M516.69 112.6L534 113.8L516.69 114.5Z" fill="#8a8a8a" opacity=".85"/>
<path d="M502.4 119.7L507 120.9L502.4 121.6Z" fill="#8a8a8a" opacity=".85"/>
<path d="M502.99 126.79L506 127.99L502.99 128.69Z" fill="#8a8a8a" opacity=".85"/>
<path d="M505.68 133.88L518 135.08L505.68 135.78Z" fill="#8a8a8a" opacity=".85"/>
<path d="M505.29 148.06L514 149.26L505.29 149.96Z" fill="#8a8a8a" opacity=".85"/>
<line x1="502.2" y1="40.4" x2="502.2" y2="189.3" stroke="#8a8a8a" stroke-width=".7"/>
<rect x="502.2" y="44.65" width="10.89" height="5.67" fill="#bababa" stroke="#000" stroke-width="1.75"/>
<line x1="503.1" y1="47.49" x2="512.19" y2="47.49" stroke="#dedede" stroke-width=".8"/>
<rect x="502.2" y="58.84" width="11.69" height="5.67" fill="#bababa" stroke="#000" stroke-width="1.75"/>
<line x1="503.1" y1="61.67" x2="512.99" y2="61.67" stroke="#dedede" stroke-width=".8"/>
<rect x="502.2" y="65.93" width="20.71" height="5.67" fill="#bababa" stroke="#000" stroke-width="1.75"/>
<line x1="503.1" y1="68.76" x2="522.01" y2="68.76" stroke="#dedede" stroke-width=".8"/>
<rect x="502.2" y="73.02" width="10.5" height="5.67" fill="#bababa" stroke="#000" stroke-width="1.75"/>
<line x1="503.1" y1="75.85" x2="511.8" y2="75.85" stroke="#dedede" stroke-width=".8"/>
<rect x="502.2" y="94.29" width="12.68" height="5.67" fill="#bababa" stroke="#000" stroke-width="1.75"/>
<line x1="503.1" y1="97.12" x2="513.98" y2="97.12" stroke="#dedede" stroke-width=".8"/>
<rect x="502.2" y="108.47" width="14.89" height="5.67" fill="#bababa" stroke="#000" stroke-width="1.75"/>
<line x1="503.1" y1="111.3" x2="516.19" y2="111.3" stroke="#dedede" stroke-width=".8"/>
<rect x="502.2" y="115.56" width="0.6" height="5.67" fill="#000" stroke="#000" stroke-width="1.75"/>
<rect x="502.2" y="122.65" width="1.19" height="5.67" fill="#bababa" stroke="#000" stroke-width="1.75"/>
<rect x="502.2" y="129.74" width="3.88" height="5.67" fill="#bababa" stroke="#000" stroke-width="1.75"/>
<line x1="503.1" y1="132.58" x2="505.18" y2="132.58" stroke="#dedede" stroke-width=".8"/>
<rect x="502.2" y="143.92" width="3.49" height="5.67" fill="#bababa" stroke="#000" stroke-width="1.75"/>
<line x1="503.1" y1="146.76" x2="504.79" y2="146.76" stroke="#dedede" stroke-width=".8"/>
<line x1="502.05" y1="43.9" x2="502.05" y2="157.43" stroke="#000" stroke-width="2.3"/>
<rect x="462.4" y="40.4" width="79.2" height="148.9" fill="none" stroke="#6c6c6c" stroke-width=".65"/>
<path d="M462.4 47.49h1.3M541.6 47.49h-1.3M462.4 54.58h1.3M541.6 54.58h-1.3M462.4 61.67h1.3M541.6 61.67h-1.3M462.4 68.76h1.3M541.6 68.76h-1.3M462.4 75.85h1.3M541.6 75.85h-1.3M462.4 82.94h1.3M541.6 82.94h-1.3M462.4 90.03h1.3M541.6 90.03h-1.3M462.4 97.12h1.3M541.6 97.12h-1.3M462.4 104.21h1.3M541.6 104.21h-1.3M462.4 111.3h1.3M541.6 111.3h-1.3M462.4 118.4h1.3M541.6 118.4h-1.3M462.4 125.49h1.3M541.6 125.49h-1.3M462.4 132.58h1.3M541.6 132.58h-1.3M462.4 139.67h1.3M541.6 139.67h-1.3M462.4 146.76h1.3M541.6 146.76h-1.3M462.4 153.85h1.3M541.6 153.85h-1.3M462.4 160.94h1.3M541.6 160.94h-1.3M462.4 168.03h1.3M541.6 168.03h-1.3M462.4 175.12h1.3M541.6 175.12h-1.3M462.4 182.21h1.3M541.6 182.21h-1.3M462.4 40.4v1.3M462.4 189.3v-1.3M502.2 40.4v1.3M502.2 189.3v-1.3M541.6 40.4v1.3M541.6 189.3v-1.3" stroke="#5a5a5a" stroke-width=".65" fill="none"/>
<text x="462.2" y="198.4" font-size="7.3" font-weight="normal" text-anchor="middle" fill="#1c1c1c" transform="rotate(0.05 462.2 198.4)">−1</text>
<text x="502.4" y="198.4" font-size="7.3" font-weight="normal" text-anchor="middle" fill="#1c1c1c" transform="rotate(0.05 502.4 198.4)">0</text>
<text x="541.4" y="198.4" font-size="7.3" font-weight="normal" text-anchor="middle" fill="#1c1c1c" transform="rotate(0.05 541.4 198.4)">1</text>
<text x="502" y="37.4" font-size="8.0" font-weight="bold" text-anchor="middle" fill="#0a0a0a" letter-spacing="-0.25" stroke="#0a0a0a" stroke-width=".15" transform="rotate(0.05 502 37.4)">M5</text>
</g>
<g>
<path d="M462.4 286.84L463.19 286.92L463.98 287.06L464.78 287.27L465.57 287.54L466.36 287.87L467.15 288.32L467.94 288.91L468.74 289.59L469.53 290.21L470.32 290.63L471.11 290.73L471.9 290.52L472.7 290.03L473.49 289.35L474.28 288.5L475.07 287.43L475.86 286.08L476.66 284.47L477.45 282.78L478.24 281.21L479.03 279.86L479.82 278.74L480.62 277.82L481.41 277.17L482.2 276.84L482.99 276.8L483.78 277L484.58 277.33L485.37 277.78L486.16 278.39L486.95 279.21L487.74 280.2L488.54 281.26L489.33 282.26L490.12 283.14L490.91 283.88L491.7 284.53L492.5 285.1L493.29 285.61L494.08 286.05L494.87 286.43L495.66 286.75L496.46 287.05L497.25 287.34L498.04 287.65L498.83 288.01L499.62 288.41L500.42 288.86L501.21 289.34L502 289.84L502.79 290.33L503.58 290.81L504.38 291.3L505.17 291.78L505.96 292.24L506.75 292.61L507.54 292.82L508.34 292.85L509.13 292.72L509.92 292.48L510.71 292.19L511.5 291.93L512.3 291.76L513.09 291.73L513.88 291.84L514.67 292.08L515.46 292.39L516.26 292.72L517.05 293.01L517.84 293.28L518.63 293.53L519.42 293.73L520.22 293.88L521.01 293.94L521.8 293.92L522.59 293.84L523.38 293.7L524.18 293.52L524.97 293.29L525.76 292.96L526.55 292.47L527.34 291.73L528.14 290.77L528.93 289.62L529.72 288.31L530.51 286.84L531.3 285.17L532.1 283.36L532.89 281.51L533.68 279.71L534.47 278L535.26 276.37L536.06 274.86L536.85 273.56L537.64 272.53L538.43 271.79L539.22 271.25L540.02 270.86L540.81 270.6L541.6 270.46L541.6 298.45L540.81 298.53L540.02 298.64L539.22 298.77L538.43 298.93L537.64 299.11L536.85 299.33L536.06 299.56L535.26 299.76L534.47 299.9L533.68 299.97L532.89 300L532.1 300L531.3 300L530.51 300L529.72 300L528.93 300L528.14 300L527.34 300L526.55 300L525.76 299.98L524.97 299.95L524.18 299.9L523.38 299.83L522.59 299.75L521.8 299.68L521.01 299.61L520.22 299.57L519.42 299.52L518.63 299.49L517.84 299.45L517.05 299.39L516.26 299.32L515.46 299.23L514.67 299.14L513.88 299.07L513.09 299.04L512.3 299.07L511.5 299.14L510.71 299.25L509.92 299.38L509.13 299.48L508.34 299.55L507.54 299.59L506.75 299.6L505.96 299.6L505.17 299.6L504.38 299.61L503.58 299.63L502.79 299.67L502 299.74L501.21 299.82L500.42 299.9L499.62 299.95L498.83 299.99L498.04 300L497.25 300L496.46 300L495.66 300L494.87 300L494.08 300L493.29 300L492.5 300L491.7 300L490.91 299.99L490.12 299.91L489.33 299.69L488.54 299.27L487.74 298.67L486.95 297.97L486.16 297.28L485.37 296.63L484.58 296.03L483.78 295.51L482.99 295.13L482.2 294.94L481.41 294.95L480.62 295.08L479.82 295.3L479.03 295.58L478.24 295.93L477.45 296.36L476.66 296.86L475.86 297.36L475.07 297.84L474.28 298.28L473.49 298.68L472.7 299.04L471.9 299.32L471.11 299.49L470.32 299.53L469.53 299.48L468.74 299.37L467.94 299.23L467.15 299.06L466.36 298.88L465.57 298.68L464.78 298.45L463.98 298.18L463.19 297.93L462.4 297.74Z" fill="#cfcfcf"/>
<path d="M462.4 292.24L463.19 292.31L463.98 292.42L464.78 292.56L465.57 292.72L466.36 292.92L467.15 293.15L467.94 293.44L468.74 293.76L469.53 294.05L470.32 294.23L471.11 294.24L471.9 294.07L472.7 293.74L473.49 293.29L474.28 292.74L475.07 292.06L475.86 291.23L476.66 290.26L477.45 289.25L478.24 288.32L479.03 287.52L479.82 286.85L480.62 286.32L481.41 285.94L482.2 285.76L482.99 285.8L483.78 286.01L484.58 286.34L485.37 286.77L486.16 287.32L486.95 288.02L487.74 288.82L488.54 289.67L489.33 290.44L490.12 291.08L490.91 291.61L491.7 292.06L492.5 292.44L493.29 292.76L494.08 293.02L494.87 293.22L495.66 293.38L496.46 293.52L497.25 293.66L498.04 293.83L498.83 294.03L499.62 294.29L500.42 294.61L501.21 294.97L502 295.33L502.79 295.63L503.58 295.88L504.38 296.05L505.17 296.17L505.96 296.27L506.75 296.33L507.54 296.35L508.34 296.28L509.13 296.12L509.92 295.88L510.71 295.59L511.5 295.33L512.3 295.15L513.09 295.07L513.88 295.09L514.67 295.18L515.46 295.32L516.26 295.47L517.05 295.65L517.84 295.86L518.63 296.08L519.42 296.3L520.22 296.46L521.01 296.55L521.8 296.58L522.59 296.57L523.38 296.54L524.18 296.51L524.97 296.46L525.76 296.36L526.55 296.17L527.34 295.84L528.14 295.38L528.93 294.81L529.72 294.14L530.51 293.37L531.3 292.46L532.1 291.46L532.89 290.42L533.68 289.38L534.47 288.38L535.26 287.39L536.06 286.48L536.85 285.75L537.64 285.28L538.43 285.07L539.22 285L540.02 285L540.81 285L541.6 285" fill="none" stroke="#000" stroke-width="1.4" stroke-linejoin="round"/>
<rect x="462.4" y="231.4" width="79.2" height="68.6" fill="none" stroke="#787878" stroke-width=".8"/>
<path d="M462.4 300h1.4M541.6 300h-1.4M462.4 277.13h1.4M541.6 277.13h-1.4M462.4 254.27h1.4M541.6 254.27h-1.4M462.4 231.4h1.4M541.6 231.4h-1.4M462.4 231.4v1.4M462.4 300v-1.4M502 231.4v1.4M502 300v-1.4M541.6 231.4v1.4M541.6 300v-1.4" stroke="#787878" stroke-width=".6" fill="none"/>
<text x="460.7" y="302.6" font-size="7.3" font-weight="normal" text-anchor="end" fill="#1c1c1c" transform="rotate(0.05 460.7 302.6)">0</text>
<text x="460.7" y="279.73" font-size="7.3" font-weight="normal" text-anchor="end" fill="#1c1c1c" transform="rotate(0.05 460.7 279.73)">1</text>
<text x="460.7" y="256.87" font-size="7.3" font-weight="normal" text-anchor="end" fill="#1c1c1c" transform="rotate(0.05 460.7 256.87)">2</text>
<text x="460.7" y="234" font-size="7.3" font-weight="normal" text-anchor="end" fill="#1c1c1c" transform="rotate(0.05 460.7 234)">3</text>
<text x="462.4" y="309.1" font-size="7.3" font-weight="normal" text-anchor="middle" fill="#1c1c1c" transform="rotate(0.05 462.4 309.1)">0</text>
<text x="502.2" y="309.1" font-size="7.3" font-weight="normal" text-anchor="middle" fill="#1c1c1c" transform="rotate(0.05 502.2 309.1)">50</text>
<text x="541.6" y="309.1" font-size="7.3" font-weight="normal" text-anchor="middle" fill="#1c1c1c" transform="rotate(0.05 541.6 309.1)">100</text>
<text x="501.9" y="319.9" font-size="7.3" font-weight="normal" text-anchor="middle" fill="#1c1c1c" transform="rotate(0.05 501.9 319.9)">gait cycle [%]</text>
<text x="501.9" y="229.4" font-size="8.0" font-weight="bold" text-anchor="middle" fill="#0a0a0a" letter-spacing="-0.25" stroke="#0a0a0a" stroke-width=".15" transform="rotate(0.05 501.9 229.4)">CM5</text>
</g>
<g>
<path d="M93.7 413.89L96 415.09L93.7 415.79Z" fill="#8a8a8a" opacity=".85"/>
<path d="M101.11 420.88L108 422.08L101.11 422.78Z" fill="#8a8a8a" opacity=".85"/>
<path d="M98.1 427.87L107 429.07L98.1 429.77Z" fill="#8a8a8a" opacity=".85"/>
<path d="M93.7 434.86L102 436.06L93.7 436.76Z" fill="#8a8a8a" opacity=".85"/>
<path d="M95.71 441.85L109 443.05L95.71 443.75Z" fill="#8a8a8a" opacity=".85"/>
<path d="M106.09 448.84L113 450.04L106.09 450.74Z" fill="#8a8a8a" opacity=".85"/>
<path d="M106.9 455.83L119 457.03L106.9 457.73Z" fill="#8a8a8a" opacity=".85"/>
<path d="M97.48 462.82L104 464.02L97.48 464.72Z" fill="#8a8a8a" opacity=".85"/>
<path d="M103.5 469.81L111 471.01L103.5 471.71Z" fill="#8a8a8a" opacity=".85"/>
<path d="M98.72 483.8L106 485L98.72 485.7Z" fill="#8a8a8a" opacity=".85"/>
<path d="M98.91 490.79L106 491.99L98.91 492.69Z" fill="#8a8a8a" opacity=".85"/>
<path d="M92.77 497.78L98 498.98L92.77 499.68Z" fill="#8a8a8a" opacity=".85"/>
<path d="M97.71 511.76L107 512.96L97.71 513.66Z" fill="#8a8a8a" opacity=".85"/>
<path d="M96.9 525.74L108 526.94L96.9 527.64Z" fill="#8a8a8a" opacity=".85"/>
<path d="M92 532.73L99 533.93L92 534.63Z" fill="#8a8a8a" opacity=".85"/>
<path d="M86.29 528.23L69 528.83L86.29 530.13Z" fill="#8a8a8a" opacity=".85"/>
<path d="M92 539.72L98 540.92L92 541.62Z" fill="#8a8a8a" opacity=".85"/>
<path d="M85.28 535.22L67 535.82L85.28 537.12Z" fill="#8a8a8a" opacity=".85"/>
<path d="M92 546.71L108 547.91L92 548.61Z" fill="#8a8a8a" opacity=".85"/>
<path d="M90.84 542.21L77 542.81L90.84 544.11Z" fill="#8a8a8a" opacity=".85"/>
<line x1="92" y1="405.6" x2="92" y2="552.4" stroke="#8a8a8a" stroke-width=".7"/>
<rect x="92" y="409.79" width="2.1" height="5.59" fill="#bababa" stroke="#000" stroke-width="1.75"/>
<rect x="92" y="416.78" width="9.51" height="5.59" fill="#bababa" stroke="#000" stroke-width="1.75"/>
<line x1="92.9" y1="419.58" x2="100.61" y2="419.58" stroke="#dedede" stroke-width=".8"/>
<rect x="92" y="423.78" width="6.5" height="5.59" fill="#bababa" stroke="#000" stroke-width="1.75"/>
<line x1="92.9" y1="426.57" x2="97.6" y2="426.57" stroke="#dedede" stroke-width=".8"/>
<rect x="92" y="430.77" width="2.1" height="5.59" fill="#bababa" stroke="#000" stroke-width="1.75"/>
<rect x="92" y="437.76" width="4.11" height="5.59" fill="#bababa" stroke="#000" stroke-width="1.75"/>
<line x1="92.9" y1="440.55" x2="95.21" y2="440.55" stroke="#dedede" stroke-width=".8"/>
<rect x="92" y="444.75" width="14.49" height="5.59" fill="#bababa" stroke="#000" stroke-width="1.75"/>
<line x1="92.9" y1="447.54" x2="105.59" y2="447.54" stroke="#dedede" stroke-width=".8"/>
<rect x="92" y="451.74" width="15.3" height="5.59" fill="#bababa" stroke="#000" stroke-width="1.75"/>
<line x1="92.9" y1="454.53" x2="106.4" y2="454.53" stroke="#dedede" stroke-width=".8"/>
<rect x="92" y="458.73" width="5.88" height="5.59" fill="#bababa" stroke="#000" stroke-width="1.75"/>
<line x1="92.9" y1="461.52" x2="96.98" y2="461.52" stroke="#dedede" stroke-width=".8"/>
<rect x="92" y="465.72" width="11.9" height="5.59" fill="#bababa" stroke="#000" stroke-width="1.75"/>
<line x1="92.9" y1="468.51" x2="103" y2="468.51" stroke="#dedede" stroke-width=".8"/>
<rect x="92" y="479.7" width="7.12" height="5.59" fill="#bababa" stroke="#000" stroke-width="1.75"/>
<line x1="92.9" y1="482.5" x2="98.22" y2="482.5" stroke="#dedede" stroke-width=".8"/>
<rect x="92" y="486.69" width="7.31" height="5.59" fill="#bababa" stroke="#000" stroke-width="1.75"/>
<line x1="92.9" y1="489.49" x2="98.41" y2="489.49" stroke="#dedede" stroke-width=".8"/>
<rect x="92" y="493.68" width="1.17" height="5.59" fill="#bababa" stroke="#000" stroke-width="1.75"/>
<rect x="92" y="507.66" width="6.11" height="5.59" fill="#bababa" stroke="#000" stroke-width="1.75"/>
<line x1="92.9" y1="510.46" x2="97.21" y2="510.46" stroke="#dedede" stroke-width=".8"/>
<rect x="92" y="521.64" width="5.3" height="5.59" fill="#bababa" stroke="#000" stroke-width="1.75"/>
<line x1="92.9" y1="524.44" x2="96.4" y2="524.44" stroke="#dedede" stroke-width=".8"/>
<rect x="85.89" y="528.63" width="6.11" height="5.59" fill="#bababa" stroke="#000" stroke-width="1.75"/>
<line x1="86.79" y1="531.43" x2="91.1" y2="531.43" stroke="#dedede" stroke-width=".8"/>
<rect x="84.88" y="535.62" width="7.12" height="5.59" fill="#bababa" stroke="#000" stroke-width="1.75"/>
<line x1="85.78" y1="538.42" x2="91.1" y2="538.42" stroke="#dedede" stroke-width=".8"/>
<rect x="90.44" y="542.61" width="1.56" height="5.59" fill="#bababa" stroke="#000" stroke-width="1.75"/>
<line x1="91.85" y1="409.04" x2="91.85" y2="548.96" stroke="#000" stroke-width="1.95"/>
<rect x="53.4" y="405.6" width="77.2" height="146.8" fill="none" stroke="#6c6c6c" stroke-width=".65"/>
<path d="M53.4 412.59h1.3M130.6 412.59h-1.3M53.4 419.58h1.3M130.6 419.58h-1.3M53.4 426.57h1.3M130.6 426.57h-1.3M53.4 433.56h1.3M130.6 433.56h-1.3M53.4 440.55h1.3M130.6 440.55h-1.3M53.4 447.54h1.3M130.6 447.54h-1.3M53.4 454.53h1.3M130.6 454.53h-1.3M53.4 461.52h1.3M130.6 461.52h-1.3M53.4 468.51h1.3M130.6 468.51h-1.3M53.4 475.5h1.3M130.6 475.5h-1.3M53.4 482.5h1.3M130.6 482.5h-1.3M53.4 489.49h1.3M130.6 489.49h-1.3M53.4 496.48h1.3M130.6 496.48h-1.3M53.4 503.47h1.3M130.6 503.47h-1.3M53.4 510.46h1.3M130.6 510.46h-1.3M53.4 517.45h1.3M130.6 517.45h-1.3M53.4 524.44h1.3M130.6 524.44h-1.3M53.4 531.43h1.3M130.6 531.43h-1.3M53.4 538.42h1.3M130.6 538.42h-1.3M53.4 545.41h1.3M130.6 545.41h-1.3M53.4 405.6v1.3M53.4 552.4v-1.3M92 405.6v1.3M92 552.4v-1.3M130.6 405.6v1.3M130.6 552.4v-1.3" stroke="#5a5a5a" stroke-width=".65" fill="none"/>
<text x="51.6" y="561.3" font-size="7.3" font-weight="normal" text-anchor="middle" fill="#1c1c1c" transform="rotate(0.05 51.6 561.3)">−1</text>
<text x="91" y="561.3" font-size="7.3" font-weight="normal" text-anchor="middle" fill="#1c1c1c" transform="rotate(0.05 91 561.3)">0</text>
<text x="130" y="561.3" font-size="7.3" font-weight="normal" text-anchor="middle" fill="#1c1c1c" transform="rotate(0.05 130 561.3)">1</text>
<text x="92" y="401.5" font-size="8.0" font-weight="bold" text-anchor="middle" fill="#0a0a0a" letter-spacing="-0.25" stroke="#0a0a0a" stroke-width=".15" transform="rotate(0.05 92 401.5)">K1</text>
</g>
<g>
<path d="M53.4 635.35L54.17 632.13L54.94 628.2L55.72 624.41L56.49 621.47L57.26 619.32L58.03 617.7L58.8 616.45L59.58 615.55L60.35 615.05L61.12 615.02L61.89 615.48L62.66 616.36L63.44 617.54L64.21 618.93L64.98 620.52L65.75 622.38L66.52 624.48L67.3 626.72L68.07 628.88L68.84 630.87L69.61 632.68L70.38 634.33L71.16 635.77L71.93 636.91L72.7 637.68L73.47 638.15L74.24 638.44L75.02 638.63L75.79 638.79L76.56 638.9L77.33 638.94L78.1 638.9L78.88 638.75L79.65 638.5L80.42 638.19L81.19 637.88L81.96 637.65L82.74 637.61L83.51 637.84L84.28 638.39L85.05 639.25L85.82 640.35L86.6 641.71L87.37 643.41L88.14 645.52L88.91 647.93L89.68 650.39L90.46 652.63L91.23 654.54L92 656.19L92.77 657.59L93.54 658.71L94.32 659.35L95.09 659.33L95.86 658.55L96.63 657.12L97.4 655.24L98.18 653.06L98.95 650.62L99.72 648.03L100.49 645.59L101.26 643.62L102.04 642.3L102.81 641.5L103.58 641.05L104.35 640.89L105.12 641.11L105.9 641.88L106.67 643.17L107.44 644.78L108.21 646.43L108.98 647.92L109.76 649.25L110.53 650.47L111.3 651.6L112.07 652.57L112.84 653.3L113.62 653.74L114.39 653.94L115.16 654L115.93 654L116.7 654L117.48 654L118.25 654L119.02 654.01L119.79 654.03L120.56 654.09L121.34 654.21L122.11 654.39L122.88 654.63L123.65 654.94L124.42 655.36L125.2 655.89L125.97 656.46L126.74 656.91L127.51 657.04L128.28 656.71L129.06 655.85L129.83 654.75L130.6 653.75L130.6 659.66L129.83 660.01L129.06 660.41L128.28 660.74L127.51 660.92L126.74 660.99L125.97 661L125.2 661L124.42 660.99L123.65 660.96L122.88 660.9L122.11 660.82L121.34 660.73L120.56 660.66L119.79 660.63L119.02 660.65L118.25 660.69L117.48 660.75L116.7 660.82L115.93 660.89L115.16 660.94L114.39 660.97L113.62 660.95L112.84 660.88L112.07 660.75L111.3 660.59L110.53 660.4L109.76 660.2L108.98 660L108.21 659.78L107.44 659.55L106.67 659.34L105.9 659.17L105.12 659.11L104.35 659.18L103.58 659.38L102.81 659.65L102.04 659.94L101.26 660.2L100.49 660.45L99.72 660.67L98.95 660.84L98.18 660.94L97.4 660.99L96.63 661L95.86 661L95.09 661L94.32 661L93.54 661L92.77 661L92 661L91.23 661L90.46 661L89.68 661L88.91 661L88.14 661L87.37 661L86.6 661L85.82 661L85.05 661L84.28 661L83.51 661L82.74 660.99L81.96 660.97L81.19 660.93L80.42 660.88L79.65 660.81L78.88 660.72L78.1 660.6L77.33 660.42L76.56 660.15L75.79 659.79L75.02 659.37L74.24 658.89L73.47 658.4L72.7 657.91L71.93 657.42L71.16 656.9L70.38 656.33L69.61 655.65L68.84 654.82L68.07 653.76L67.3 652.48L66.52 651.06L65.75 649.64L64.98 648.32L64.21 647.09L63.44 645.96L62.66 644.95L61.89 644.18L61.12 643.75L60.35 643.71L59.58 644L58.8 644.56L58.03 645.29L57.26 646.15L56.49 647.15L55.72 648.33L54.94 649.73L54.17 651.11L53.4 652.23Z" fill="#cfcfcf"/>
<path d="M53.4 644.16L54.17 642.37L54.94 640.12L55.72 637.85L56.49 635.89L57.26 634.2L58.03 632.72L58.8 631.45L59.58 630.46L60.35 629.91L61.12 629.86L61.89 630.35L62.66 631.28L63.44 632.5L64.21 633.9L64.98 635.42L65.75 637.09L66.52 638.9L67.3 640.73L68.07 642.4L68.84 643.8L69.61 644.94L70.38 645.89L71.16 646.68L71.93 647.34L72.7 647.84L73.47 648.23L74.24 648.55L75.02 648.81L75.79 649.03L76.56 649.2L77.33 649.32L78.1 649.4L78.88 649.45L79.65 649.48L80.42 649.5L81.19 649.53L81.96 649.57L82.74 649.66L83.51 649.84L84.28 650.15L85.05 650.6L85.82 651.16L86.6 651.86L87.37 652.72L88.14 653.79L88.91 655.01L89.68 656.24L90.46 657.33L91.23 658.22L92 658.96L92.77 659.57L93.54 660.05L94.32 660.33L95.09 660.32L95.86 659.98L96.63 659.36L97.4 658.53L98.18 657.53L98.95 656.37L99.72 655.11L100.49 653.88L101.26 652.86L102.04 652.12L102.81 651.64L103.58 651.33L104.35 651.18L105.12 651.22L105.9 651.5L106.67 652.02L107.44 652.67L108.21 653.35L108.98 653.99L109.76 654.58L110.53 655.14L111.3 655.67L112.07 656.16L112.84 656.55L113.62 656.84L114.39 657.03L115.16 657.15L115.93 657.24L116.7 657.31L117.48 657.37L118.25 657.43L119.02 657.5L119.79 657.6L120.56 657.71L121.34 657.85L122.11 658.01L122.88 658.17L123.65 658.33L124.42 658.49L125.2 658.65L125.97 658.79L126.74 658.88L127.51 658.82L128.28 658.52L129.06 657.91L129.83 657.16L130.6 656.49" fill="none" stroke="#000" stroke-width="1.4" stroke-linejoin="round"/>
<rect x="53.4" y="594" width="77.2" height="67" fill="none" stroke="#787878" stroke-width=".8"/>
<path d="M53.4 661h1.4M130.6 661h-1.4M53.4 638.67h1.4M130.6 638.67h-1.4M53.4 616.33h1.4M130.6 616.33h-1.4M53.4 594h1.4M130.6 594h-1.4M53.4 594v1.4M53.4 661v-1.4M92 594v1.4M92 661v-1.4M130.6 594v1.4M130.6 661v-1.4" stroke="#787878" stroke-width=".6" fill="none"/>
<text x="51.4" y="663.6" font-size="7.3" font-weight="normal" text-anchor="end" fill="#1c1c1c" transform="rotate(0.05 51.4 663.6)">0</text>
<text x="51.4" y="641.27" font-size="7.3" font-weight="normal" text-anchor="end" fill="#1c1c1c" transform="rotate(0.05 51.4 641.27)">1</text>
<text x="51.4" y="618.93" font-size="7.3" font-weight="normal" text-anchor="end" fill="#1c1c1c" transform="rotate(0.05 51.4 618.93)">2</text>
<text x="51.4" y="596.6" font-size="7.3" font-weight="normal" text-anchor="end" fill="#1c1c1c" transform="rotate(0.05 51.4 596.6)">3</text>
<text x="53" y="670.5" font-size="7.3" font-weight="normal" text-anchor="middle" fill="#1c1c1c" transform="rotate(0.05 53 670.5)">0</text>
<text x="92" y="670.5" font-size="7.3" font-weight="normal" text-anchor="middle" fill="#1c1c1c" transform="rotate(0.05 92 670.5)">50</text>
<text x="131.6" y="670.5" font-size="7.3" font-weight="normal" text-anchor="middle" fill="#1c1c1c" transform="rotate(0.05 131.6 670.5)">100</text>
<text x="92.2" y="679.2" font-size="7.3" font-weight="normal" text-anchor="middle" fill="#1c1c1c" transform="rotate(0.05 92.2 679.2)">gait cycle [%]</text>
<text x="92" y="590.9" font-size="8.0" font-weight="bold" text-anchor="middle" fill="#0a0a0a" letter-spacing="-0.25" stroke="#0a0a0a" stroke-width=".15" transform="rotate(0.05 92 590.9)">CK1</text>
</g>
<g>
<path d="M202.69 413.89L214 415.09L202.69 415.79Z" fill="#8a8a8a" opacity=".85"/>
<path d="M195.09 420.88L208 422.08L195.09 422.78Z" fill="#8a8a8a" opacity=".85"/>
<path d="M197.69 427.87L210 429.07L197.69 429.77Z" fill="#8a8a8a" opacity=".85"/>
<path d="M202.69 434.86L219 436.06L202.69 436.76Z" fill="#8a8a8a" opacity=".85"/>
<path d="M200.71 441.85L214 443.05L200.71 443.75Z" fill="#8a8a8a" opacity=".85"/>
<path d="M195.55 448.84L200 450.04L195.55 450.74Z" fill="#8a8a8a" opacity=".85"/>
<path d="M195.09 455.83L205 457.03L195.09 457.73Z" fill="#8a8a8a" opacity=".85"/>
<path d="M203.12 462.82L210 464.02L203.12 464.72Z" fill="#8a8a8a" opacity=".85"/>
<path d="M195.55 469.81L206 471.01L195.55 471.71Z" fill="#8a8a8a" opacity=".85"/>
<path d="M201.1 476.8L216 478L201.1 478.7Z" fill="#8a8a8a" opacity=".85"/>
<path d="M195.94 483.8L210 485L195.94 485.7Z" fill="#8a8a8a" opacity=".85"/>
<path d="M195.94 490.79L209 491.99L195.94 492.69Z" fill="#8a8a8a" opacity=".85"/>
<path d="M198.69 497.78L215 498.98L198.69 499.68Z" fill="#8a8a8a" opacity=".85"/>
<path d="M197.1 504.77L208 505.97L197.1 506.67Z" fill="#8a8a8a" opacity=".85"/>
<path d="M195.94 511.76L204 512.96L195.94 513.66Z" fill="#8a8a8a" opacity=".85"/>
<path d="M203.7 525.74L220 526.94L203.7 527.64Z" fill="#8a8a8a" opacity=".85"/>
<path d="M194 521.24L190 521.84L194 523.14Z" fill="#8a8a8a" opacity=".85"/>
<path d="M194 532.73L202 533.93L194 534.63Z" fill="#8a8a8a" opacity=".85"/>
<path d="M192.91 528.23L182 528.83L192.91 530.13Z" fill="#8a8a8a" opacity=".85"/>
<path d="M202.11 539.72L213 540.92L202.11 541.62Z" fill="#8a8a8a" opacity=".85"/>
<path d="M194 535.22L188 535.82L194 537.12Z" fill="#8a8a8a" opacity=".85"/>
<path d="M182.9 542.21L169 542.81L182.9 544.11Z" fill="#8a8a8a" opacity=".85"/>
<line x1="194" y1="405.6" x2="194" y2="552.4" stroke="#8a8a8a" stroke-width=".7"/>
<rect x="194" y="409.79" width="9.09" height="5.59" fill="#bababa" stroke="#000" stroke-width="1.75"/>
<line x1="194.9" y1="412.59" x2="202.19" y2="412.59" stroke="#dedede" stroke-width=".8"/>
<rect x="194" y="416.78" width="1.49" height="5.59" fill="#bababa" stroke="#000" stroke-width="1.75"/>
<rect x="194" y="423.78" width="4.09" height="5.59" fill="#bababa" stroke="#000" stroke-width="1.75"/>
<line x1="194.9" y1="426.57" x2="197.19" y2="426.57" stroke="#dedede" stroke-width=".8"/>
<rect x="194" y="430.77" width="9.09" height="5.59" fill="#bababa" stroke="#000" stroke-width="1.75"/>
<line x1="194.9" y1="433.56" x2="202.19" y2="433.56" stroke="#dedede" stroke-width=".8"/>
<rect x="194" y="437.76" width="7.11" height="5.59" fill="#bababa" stroke="#000" stroke-width="1.75"/>
<line x1="194.9" y1="440.55" x2="200.21" y2="440.55" stroke="#dedede" stroke-width=".8"/>
<rect x="194" y="444.75" width="1.95" height="5.59" fill="#bababa" stroke="#000" stroke-width="1.75"/>
<rect x="194" y="451.74" width="1.49" height="5.59" fill="#bababa" stroke="#000" stroke-width="1.75"/>
<rect x="194" y="458.73" width="9.52" height="5.59" fill="#bababa" stroke="#000" stroke-width="1.75"/>
<line x1="194.9" y1="461.52" x2="202.62" y2="461.52" stroke="#dedede" stroke-width=".8"/>
<rect x="194" y="465.72" width="1.95" height="5.59" fill="#bababa" stroke="#000" stroke-width="1.75"/>
<rect x="194" y="472.71" width="7.5" height="5.59" fill="#bababa" stroke="#000" stroke-width="1.75"/>
<line x1="194.9" y1="475.5" x2="200.6" y2="475.5" stroke="#dedede" stroke-width=".8"/>
<rect x="194" y="479.7" width="2.34" height="5.59" fill="#bababa" stroke="#000" stroke-width="1.75"/>
<line x1="194.9" y1="482.5" x2="195.44" y2="482.5" stroke="#dedede" stroke-width=".8"/>
<rect x="194" y="486.69" width="2.34" height="5.59" fill="#bababa" stroke="#000" stroke-width="1.75"/>
<line x1="194.9" y1="489.49" x2="195.44" y2="489.49" stroke="#dedede" stroke-width=".8"/>
<rect x="194" y="493.68" width="5.09" height="5.59" fill="#bababa" stroke="#000" stroke-width="1.75"/>
<line x1="194.9" y1="496.48" x2="198.19" y2="496.48" stroke="#dedede" stroke-width=".8"/>
<rect x="194" y="500.67" width="3.5" height="5.59" fill="#bababa" stroke="#000" stroke-width="1.75"/>
<line x1="194.9" y1="503.47" x2="196.6" y2="503.47" stroke="#dedede" stroke-width=".8"/>
<rect x="194" y="507.66" width="2.34" height="5.59" fill="#bababa" stroke="#000" stroke-width="1.75"/>
<line x1="194.9" y1="510.46" x2="195.44" y2="510.46" stroke="#dedede" stroke-width=".8"/>
<rect x="194" y="521.64" width="10.1" height="5.59" fill="#bababa" stroke="#000" stroke-width="1.75"/>
<line x1="194.9" y1="524.44" x2="203.2" y2="524.44" stroke="#dedede" stroke-width=".8"/>
<rect x="192.51" y="528.63" width="1.49" height="5.59" fill="#bababa" stroke="#000" stroke-width="1.75"/>
<rect x="194" y="535.62" width="8.51" height="5.59" fill="#bababa" stroke="#000" stroke-width="1.75"/>
<line x1="194.9" y1="538.42" x2="201.61" y2="538.42" stroke="#dedede" stroke-width=".8"/>
<rect x="182.5" y="542.61" width="11.5" height="5.59" fill="#bababa" stroke="#000" stroke-width="1.75"/>
<line x1="183.4" y1="545.41" x2="193.1" y2="545.41" stroke="#dedede" stroke-width=".8"/>
<line x1="193.85" y1="409.04" x2="193.85" y2="548.96" stroke="#000" stroke-width="1.95"/>
<rect x="155.4" y="405.6" width="77.6" height="146.8" fill="none" stroke="#6c6c6c" stroke-width=".65"/>
<path d="M155.4 412.59h1.3M233 412.59h-1.3M155.4 419.58h1.3M233 419.58h-1.3M155.4 426.57h1.3M233 426.57h-1.3M155.4 433.56h1.3M233 433.56h-1.3M155.4 440.55h1.3M233 440.55h-1.3M155.4 447.54h1.3M233 447.54h-1.3M155.4 454.53h1.3M233 454.53h-1.3M155.4 461.52h1.3M233 461.52h-1.3M155.4 468.51h1.3M233 468.51h-1.3M155.4 475.5h1.3M233 475.5h-1.3M155.4 482.5h1.3M233 482.5h-1.3M155.4 489.49h1.3M233 489.49h-1.3M155.4 496.48h1.3M233 496.48h-1.3M155.4 503.47h1.3M233 503.47h-1.3M155.4 510.46h1.3M233 510.46h-1.3M155.4 517.45h1.3M233 517.45h-1.3M155.4 524.44h1.3M233 524.44h-1.3M155.4 531.43h1.3M233 531.43h-1.3M155.4 538.42h1.3M233 538.42h-1.3M155.4 545.41h1.3M233 545.41h-1.3M155.4 405.6v1.3M155.4 552.4v-1.3M194 405.6v1.3M194 552.4v-1.3M233 405.6v1.3M233 552.4v-1.3" stroke="#5a5a5a" stroke-width=".65" fill="none"/>
<text x="155" y="561.3" font-size="7.3" font-weight="normal" text-anchor="middle" fill="#1c1c1c" transform="rotate(0.05 155 561.3)">−1</text>
<text x="195" y="561.3" font-size="7.3" font-weight="normal" text-anchor="middle" fill="#1c1c1c" transform="rotate(0.05 195 561.3)">0</text>
<text x="234" y="561.3" font-size="7.3" font-weight="normal" text-anchor="middle" fill="#1c1c1c" transform="rotate(0.05 234 561.3)">1</text>
<text x="194" y="401.5" font-size="8.0" font-weight="bold" text-anchor="middle" fill="#0a0a0a" letter-spacing="-0.25" stroke="#0a0a0a" stroke-width=".15" transform="rotate(0.05 194 401.5)">K2</text>
</g>
<g>
<path d="M155.4 649.79L156.18 649.75L156.95 649.67L157.73 649.55L158.5 649.39L159.28 649.17L160.06 648.82L160.83 648.26L161.61 647.46L162.38 646.46L163.16 645.36L163.94 644.27L164.71 643.23L165.49 642.27L166.26 641.42L167.04 640.74L167.82 640.21L168.59 639.78L169.37 639.33L170.14 638.83L170.92 638.28L171.7 637.7L172.47 637.12L173.25 636.55L174.02 635.98L174.8 635.41L175.58 634.82L176.35 634.25L177.13 633.75L177.9 633.38L178.68 633.21L179.46 633.28L180.23 633.61L181.01 634.17L181.78 634.96L182.56 636.03L183.34 637.41L184.11 639.02L184.89 640.69L185.66 642.24L186.44 643.59L187.22 644.76L187.99 645.81L188.77 646.74L189.54 647.53L190.32 648.2L191.1 648.8L191.87 649.33L192.65 649.79L193.42 650.16L194.2 650.4L194.98 650.48L195.75 650.4L196.53 650.16L197.3 649.71L198.08 648.93L198.86 647.66L199.63 645.89L200.41 643.67L201.18 641.1L201.96 638.31L202.74 635.65L203.51 633.57L204.29 632.35L205.06 631.9L205.84 632.14L206.62 633.14L207.39 634.94L208.17 637.23L208.94 639.56L209.72 641.67L210.5 643.53L211.27 645.18L212.05 646.56L212.82 647.61L213.6 648.39L214.38 648.96L215.15 649.4L215.93 649.71L216.7 649.86L217.48 649.83L218.26 649.63L219.03 649.29L219.81 648.84L220.58 648.34L221.36 647.83L222.14 647.31L222.91 646.77L223.69 646.22L224.46 645.65L225.24 645.09L226.02 644.59L226.79 644.15L227.57 643.77L228.34 643.45L229.12 643.23L229.9 643.12L230.67 643.15L231.45 643.33L232.22 643.58L233 643.82L233 656.6L232.22 656.6L231.45 656.6L230.67 656.61L229.9 656.63L229.12 656.69L228.34 656.78L227.57 656.91L226.79 657.07L226.02 657.26L225.24 657.49L224.46 657.75L223.69 658.02L222.91 658.29L222.14 658.56L221.36 658.82L220.58 659.09L219.81 659.36L219.03 659.61L218.26 659.8L217.48 659.91L216.7 659.95L215.93 659.91L215.15 659.82L214.38 659.69L213.6 659.5L212.82 659.18L212.05 658.7L211.27 658.04L210.5 657.31L209.72 656.63L208.94 656.07L208.17 655.66L207.39 655.35L206.62 655.19L205.84 655.2L205.06 655.45L204.29 655.91L203.51 656.59L202.74 657.42L201.96 658.3L201.18 659.11L200.41 659.78L199.63 660.3L198.86 660.67L198.08 660.89L197.3 660.98L196.53 661L195.75 661L194.98 661L194.2 661L193.42 661L192.65 661L191.87 661L191.1 661L190.32 660.98L189.54 660.93L188.77 660.82L187.99 660.65L187.22 660.42L186.44 660.12L185.66 659.74L184.89 659.25L184.11 658.67L183.34 658.04L182.56 657.44L181.78 656.9L181.01 656.43L180.23 656.05L179.46 655.79L178.68 655.69L177.9 655.71L177.13 655.82L176.35 655.95L175.58 656.11L174.8 656.25L174.02 656.38L173.25 656.48L172.47 656.56L171.7 656.63L170.92 656.71L170.14 656.82L169.37 657.01L168.59 657.32L167.82 657.81L167.04 658.48L166.26 659.28L165.49 660.04L164.71 660.6L163.94 660.89L163.16 660.96L162.38 660.94L161.61 660.9L160.83 660.85L160.06 660.8L159.28 660.73L158.5 660.65L157.73 660.56L156.95 660.45L156.18 660.34L155.4 660.26Z" fill="#cfcfcf"/>
<path d="M155.4 654.6L156.18 654.6L156.95 654.6L157.73 654.6L158.5 654.6L159.28 654.59L160.06 654.53L160.83 654.37L161.61 654.09L162.38 653.69L163.16 653.22L163.94 652.7L164.71 652.13L165.49 651.51L166.26 650.85L167.04 650.19L167.82 649.54L168.59 648.94L169.37 648.41L170.14 647.92L170.92 647.48L171.7 647.07L172.47 646.69L173.25 646.33L174.02 646L174.8 645.67L175.58 645.35L176.35 645.04L177.13 644.78L177.9 644.6L178.68 644.55L179.46 644.7L180.23 645.09L181.01 645.69L181.78 646.46L182.56 647.36L183.34 648.4L184.11 649.51L184.89 650.58L185.66 651.52L186.44 652.29L187.22 652.92L187.99 653.45L188.77 653.88L189.54 654.2L190.32 654.43L191.1 654.6L191.87 654.73L192.65 654.83L193.42 654.91L194.2 654.96L194.98 654.99L195.75 655L196.53 655L197.3 654.94L198.08 654.71L198.86 654.15L199.63 653.22L200.41 651.96L201.18 650.47L201.96 648.81L202.74 647.13L203.51 645.66L204.29 644.6L205.06 643.96L205.84 643.77L206.62 644.05L207.39 644.76L208.17 645.77L208.94 646.94L209.72 648.18L210.5 649.46L211.27 650.71L212.05 651.81L212.82 652.67L213.6 653.3L214.38 653.76L215.15 654.12L215.93 654.37L216.7 654.49L217.48 654.49L218.26 654.38L219.03 654.17L219.81 653.9L220.58 653.59L221.36 653.27L222.14 652.93L222.91 652.58L223.69 652.19L224.46 651.79L225.24 651.4L226.02 651.03L226.79 650.7L227.57 650.41L228.34 650.17L229.12 649.98L229.9 649.88L230.67 649.89L231.45 649.99L232.22 650.14L233 650.29" fill="none" stroke="#000" stroke-width="1.4" stroke-linejoin="round"/>
<rect x="155.4" y="594" width="77.6" height="67" fill="none" stroke="#787878" stroke-width=".8"/>
<path d="M155.4 661h1.4M233 661h-1.4M155.4 638.67h1.4M233 638.67h-1.4M155.4 616.33h1.4M233 616.33h-1.4M155.4 594h1.4M233 594h-1.4M155.4 594v1.4M155.4 661v-1.4M194.2 594v1.4M194.2 661v-1.4M233 594v1.4M233 661v-1.4" stroke="#787878" stroke-width=".6" fill="none"/>
<text x="153.4" y="663.6" font-size="7.3" font-weight="normal" text-anchor="end" fill="#1c1c1c" transform="rotate(0.05 153.4 663.6)">0</text>
<text x="153.4" y="641.27" font-size="7.3" font-weight="normal" text-anchor="end" fill="#1c1c1c" transform="rotate(0.05 153.4 641.27)">1</text>
<text x="153.4" y="618.93" font-size="7.3" font-weight="normal" text-anchor="end" fill="#1c1c1c" transform="rotate(0.05 153.4 618.93)">2</text>
<text x="153.4" y="596.6" font-size="7.3" font-weight="normal" text-anchor="end" fill="#1c1c1c" transform="rotate(0.05 153.4 596.6)">3</text>
<text x="155" y="670.5" font-size="7.3" font-weight="normal" text-anchor="middle" fill="#1c1c1c" transform="rotate(0.05 155 670.5)">0</text>
<text x="193.6" y="670.5" font-size="7.3" font-weight="normal" text-anchor="middle" fill="#1c1c1c" transform="rotate(0.05 193.6 670.5)">50</text>
<text x="234" y="670.5" font-size="7.3" font-weight="normal" text-anchor="middle" fill="#1c1c1c" transform="rotate(0.05 234 670.5)">100</text>
<text x="193.8" y="679.2" font-size="7.3" font-weight="normal" text-anchor="middle" fill="#1c1c1c" transform="rotate(0.05 193.8 679.2)">gait cycle [%]</text>
<text x="194" y="590.9" font-size="8.0" font-weight="bold" text-anchor="middle" fill="#0a0a0a" letter-spacing="-0.25" stroke="#0a0a0a" stroke-width=".15" transform="rotate(0.05 194 590.9)">CK2</text>
</g>
<g>
<path d="M308.69 413.89L315 415.09L308.69 415.79Z" fill="#8a8a8a" opacity=".85"/>
<path d="M304.69 420.88L312 422.08L304.69 422.78Z" fill="#8a8a8a" opacity=".85"/>
<path d="M304.5 441.85L311 443.05L304.5 443.75Z" fill="#8a8a8a" opacity=".85"/>
<path d="M295.8 448.84L306 450.04L295.8 450.74Z" fill="#8a8a8a" opacity=".85"/>
<path d="M300.3 455.83L307 457.03L300.3 457.73Z" fill="#8a8a8a" opacity=".85"/>
<path d="M303.44 462.82L308 464.02L303.44 464.72Z" fill="#8a8a8a" opacity=".85"/>
<path d="M298.3 476.8L310 478L298.3 478.7Z" fill="#8a8a8a" opacity=".85"/>
<path d="M297.17 483.8L306 485L297.17 485.7Z" fill="#8a8a8a" opacity=".85"/>
<path d="M297.56 490.79L306 491.99L297.56 492.69Z" fill="#8a8a8a" opacity=".85"/>
<path d="M305.52 504.77L308 505.97L305.52 506.67Z" fill="#8a8a8a" opacity=".85"/>
<path d="M307.52 511.76L312 512.96L307.52 513.66Z" fill="#8a8a8a" opacity=".85"/>
<path d="M306.11 518.75L310 519.95L306.11 520.65Z" fill="#8a8a8a" opacity=".85"/>
<path d="M290.7 521.24L282 521.84L290.7 523.14Z" fill="#8a8a8a" opacity=".85"/>
<path d="M303.05 532.73L306 533.93L303.05 534.63Z" fill="#8a8a8a" opacity=".85"/>
<path d="M310.5 539.72L319 540.92L310.5 541.62Z" fill="#8a8a8a" opacity=".85"/>
<path d="M300.7 546.71L311 547.91L300.7 548.61Z" fill="#8a8a8a" opacity=".85"/>
<line x1="295.6" y1="405.6" x2="295.6" y2="552.4" stroke="#8a8a8a" stroke-width=".7"/>
<rect x="295.6" y="409.79" width="13.49" height="5.59" fill="#bababa" stroke="#000" stroke-width="1.75"/>
<line x1="296.5" y1="412.59" x2="308.19" y2="412.59" stroke="#dedede" stroke-width=".8"/>
<rect x="295.6" y="416.78" width="9.49" height="5.59" fill="#bababa" stroke="#000" stroke-width="1.75"/>
<line x1="296.5" y1="419.58" x2="304.19" y2="419.58" stroke="#dedede" stroke-width=".8"/>
<rect x="295.6" y="430.77" width="0.79" height="5.59" fill="#bababa" stroke="#000" stroke-width="1.75"/>
<rect x="295.6" y="437.76" width="9.3" height="5.59" fill="#bababa" stroke="#000" stroke-width="1.75"/>
<line x1="296.5" y1="440.55" x2="304" y2="440.55" stroke="#dedede" stroke-width=".8"/>
<rect x="295.6" y="444.75" width="0.6" height="5.59" fill="#000" stroke="#000" stroke-width="1.75"/>
<rect x="295.6" y="451.74" width="5.1" height="5.59" fill="#bababa" stroke="#000" stroke-width="1.75"/>
<line x1="296.5" y1="454.53" x2="299.8" y2="454.53" stroke="#dedede" stroke-width=".8"/>
<rect x="295.6" y="458.73" width="8.24" height="5.59" fill="#bababa" stroke="#000" stroke-width="1.75"/>
<line x1="296.5" y1="461.52" x2="302.94" y2="461.52" stroke="#dedede" stroke-width=".8"/>
<rect x="295.6" y="472.71" width="3.1" height="5.59" fill="#bababa" stroke="#000" stroke-width="1.75"/>
<line x1="296.5" y1="475.5" x2="297.8" y2="475.5" stroke="#dedede" stroke-width=".8"/>
<rect x="295.6" y="479.7" width="1.97" height="5.59" fill="#bababa" stroke="#000" stroke-width="1.75"/>
<rect x="295.6" y="486.69" width="2.36" height="5.59" fill="#bababa" stroke="#000" stroke-width="1.75"/>
<line x1="296.5" y1="489.49" x2="297.06" y2="489.49" stroke="#dedede" stroke-width=".8"/>
<rect x="295.6" y="500.67" width="10.32" height="5.59" fill="#bababa" stroke="#000" stroke-width="1.75"/>
<line x1="296.5" y1="503.47" x2="305.02" y2="503.47" stroke="#dedede" stroke-width=".8"/>
<rect x="295.6" y="507.66" width="12.32" height="5.59" fill="#bababa" stroke="#000" stroke-width="1.75"/>
<line x1="296.5" y1="510.46" x2="307.02" y2="510.46" stroke="#dedede" stroke-width=".8"/>
<rect x="295.6" y="514.65" width="10.91" height="5.59" fill="#bababa" stroke="#000" stroke-width="1.75"/>
<line x1="296.5" y1="517.45" x2="305.61" y2="517.45" stroke="#dedede" stroke-width=".8"/>
<rect x="290.3" y="521.64" width="5.3" height="5.59" fill="#bababa" stroke="#000" stroke-width="1.75"/>
<line x1="291.2" y1="524.44" x2="294.7" y2="524.44" stroke="#dedede" stroke-width=".8"/>
<rect x="295.6" y="528.63" width="7.85" height="5.59" fill="#bababa" stroke="#000" stroke-width="1.75"/>
<line x1="296.5" y1="531.43" x2="302.55" y2="531.43" stroke="#dedede" stroke-width=".8"/>
<rect x="295.6" y="535.62" width="15.3" height="5.59" fill="#bababa" stroke="#000" stroke-width="1.75"/>
<line x1="296.5" y1="538.42" x2="310" y2="538.42" stroke="#dedede" stroke-width=".8"/>
<rect x="295.6" y="542.61" width="5.5" height="5.59" fill="#bababa" stroke="#000" stroke-width="1.75"/>
<line x1="296.5" y1="545.41" x2="300.2" y2="545.41" stroke="#dedede" stroke-width=".8"/>
<line x1="295.45" y1="409.04" x2="295.45" y2="548.96" stroke="#000" stroke-width="1.95"/>
<rect x="256.6" y="405.6" width="78.4" height="146.8" fill="none" stroke="#6c6c6c" stroke-width=".65"/>
<path d="M256.6 412.59h1.3M335 412.59h-1.3M256.6 419.58h1.3M335 419.58h-1.3M256.6 426.57h1.3M335 426.57h-1.3M256.6 433.56h1.3M335 433.56h-1.3M256.6 440.55h1.3M335 440.55h-1.3M256.6 447.54h1.3M335 447.54h-1.3M256.6 454.53h1.3M335 454.53h-1.3M256.6 461.52h1.3M335 461.52h-1.3M256.6 468.51h1.3M335 468.51h-1.3M256.6 475.5h1.3M335 475.5h-1.3M256.6 482.5h1.3M335 482.5h-1.3M256.6 489.49h1.3M335 489.49h-1.3M256.6 496.48h1.3M335 496.48h-1.3M256.6 503.47h1.3M335 503.47h-1.3M256.6 510.46h1.3M335 510.46h-1.3M256.6 517.45h1.3M335 517.45h-1.3M256.6 524.44h1.3M335 524.44h-1.3M256.6 531.43h1.3M335 531.43h-1.3M256.6 538.42h1.3M335 538.42h-1.3M256.6 545.41h1.3M335 545.41h-1.3M256.6 405.6v1.3M256.6 552.4v-1.3M295.6 405.6v1.3M295.6 552.4v-1.3M335 405.6v1.3M335 552.4v-1.3" stroke="#5a5a5a" stroke-width=".65" fill="none"/>
<text x="258.4" y="561.3" font-size="7.3" font-weight="normal" text-anchor="middle" fill="#1c1c1c" transform="rotate(0.05 258.4 561.3)">−1</text>
<text x="298.4" y="561.3" font-size="7.3" font-weight="normal" text-anchor="middle" fill="#1c1c1c" transform="rotate(0.05 298.4 561.3)">0</text>
<text x="337.4" y="561.3" font-size="7.3" font-weight="normal" text-anchor="middle" fill="#1c1c1c" transform="rotate(0.05 337.4 561.3)">1</text>
<text x="295.6" y="401.5" font-size="8.0" font-weight="bold" text-anchor="middle" fill="#0a0a0a" letter-spacing="-0.25" stroke="#0a0a0a" stroke-width=".15" transform="rotate(0.05 295.6 401.5)">K3</text>
</g>
<g>
<path d="M256.6 652.94L257.38 653.44L258.17 654.07L258.95 654.73L259.74 655.34L260.52 655.91L261.3 656.43L262.09 656.93L262.87 657.36L263.66 657.68L264.44 657.78L265.22 657.59L266.01 657.08L266.79 656.3L267.58 655.39L268.36 654.47L269.14 653.61L269.93 652.79L270.71 651.99L271.5 651.22L272.28 650.47L273.06 649.77L273.85 649.11L274.63 648.47L275.42 647.86L276.2 647.25L276.98 646.65L277.77 646.05L278.55 645.45L279.34 644.86L280.12 644.27L280.9 643.67L281.69 643.03L282.47 642.33L283.26 641.57L284.04 640.73L284.82 639.81L285.61 638.8L286.39 637.72L287.18 636.54L287.96 635.27L288.74 633.86L289.53 632.28L290.31 630.41L291.1 628.09L291.88 625.23L292.66 621.94L293.45 618.46L294.23 615.02L295.02 611.76L295.8 608.85L296.58 606.51L297.37 604.94L298.15 604.27L298.94 604.68L299.72 606.29L300.5 609.12L301.29 613.08L302.07 618.09L302.86 623.73L303.64 629.43L304.42 634.67L305.21 639.29L305.99 643.2L306.78 646.36L307.56 648.77L308.34 650.55L309.13 651.8L309.91 652.59L310.7 652.97L311.48 653.13L312.26 653.19L313.05 653.23L313.83 653.28L314.62 653.4L315.4 653.65L316.18 654.12L316.97 654.79L317.75 655.57L318.54 656.32L319.32 656.95L320.1 657.46L320.89 657.89L321.67 658.27L322.46 658.58L323.24 658.79L324.02 658.89L324.81 658.83L325.59 658.62L326.38 658.27L327.16 657.79L327.94 657.18L328.73 656.36L329.51 655.29L330.3 654.03L331.08 652.78L331.86 651.74L332.65 651L333.43 650.52L334.22 650.23L335 650.08L335 657.62L334.22 657.95L333.43 658.38L332.65 658.85L331.86 659.33L331.08 659.8L330.3 660.25L329.51 660.61L328.73 660.85L327.94 660.96L327.16 661L326.38 661L325.59 661L324.81 661L324.02 661L323.24 661L322.46 661L321.67 661L320.89 661L320.1 661L319.32 661L318.54 661L317.75 661L316.97 661L316.18 661L315.4 661L314.62 661L313.83 661L313.05 661L312.26 661L311.48 661L310.7 660.98L309.91 660.93L309.13 660.79L308.34 660.52L307.56 659.95L306.78 658.78L305.99 656.74L305.21 653.87L304.42 650.34L303.64 646.36L302.86 642.1L302.07 638.02L301.29 634.59L300.5 632.11L299.72 630.52L298.94 629.79L298.15 629.85L297.37 630.61L296.58 631.81L295.8 633.26L295.02 634.83L294.23 636.5L293.45 638.25L292.66 640.05L291.88 641.85L291.1 643.63L290.31 645.33L289.53 646.97L288.74 648.55L287.96 650.06L287.18 651.5L286.39 652.88L285.61 654.2L284.82 655.44L284.04 656.55L283.26 657.5L282.47 658.29L281.69 658.98L280.9 659.59L280.12 660.11L279.34 660.52L278.55 660.8L277.77 660.94L276.98 660.99L276.2 661L275.42 661L274.63 661L273.85 661L273.06 661L272.28 661L271.5 661L270.71 661L269.93 661L269.14 660.99L268.36 660.97L267.58 660.93L266.79 660.86L266.01 660.77L265.22 660.67L264.44 660.57L263.66 660.48L262.87 660.37L262.09 660.26L261.3 660.11L260.52 659.92L259.74 659.67L258.95 659.34L258.17 658.94L257.38 658.54L256.6 658.22Z" fill="#cfcfcf"/>
<path d="M256.6 655.51L257.38 655.94L258.17 656.49L258.95 657.05L259.74 657.52L260.52 657.91L261.3 658.22L262.09 658.49L262.87 658.7L263.66 658.85L264.44 658.91L265.22 658.84L266.01 658.64L266.79 658.34L267.58 657.97L268.36 657.58L269.14 657.19L269.93 656.79L270.71 656.39L271.5 655.99L272.28 655.64L273.06 655.34L273.85 655.09L274.63 654.88L275.42 654.69L276.2 654.49L276.98 654.26L277.77 653.97L278.55 653.62L279.34 653.2L280.12 652.71L280.9 652.16L281.69 651.56L282.47 650.91L283.26 650.22L284.04 649.46L284.82 648.62L285.61 647.69L286.39 646.66L287.18 645.51L287.96 644.23L288.74 642.8L289.53 641.2L290.31 639.42L291.1 637.39L291.88 635.08L292.66 632.54L293.45 629.83L294.23 627.01L295.02 624.18L295.8 621.55L296.58 619.41L297.37 617.96L298.15 617.27L298.94 617.37L299.72 618.26L300.5 620.02L301.29 622.78L302.07 626.61L302.86 631.19L303.64 635.98L304.42 640.46L305.21 644.45L305.99 647.84L306.78 650.55L307.56 652.56L308.34 653.99L309.13 655L309.91 655.68L310.7 656.09L311.48 656.33L312.26 656.49L313.05 656.62L313.83 656.74L314.62 656.9L315.4 657.11L316.18 657.37L316.97 657.67L317.75 658L318.54 658.32L319.32 658.62L320.1 658.91L320.89 659.19L321.67 659.45L322.46 659.68L323.24 659.84L324.02 659.93L324.81 659.92L325.59 659.82L326.38 659.64L327.16 659.4L327.94 659.07L328.73 658.6L329.51 657.93L330.3 657.12L331.08 656.27L331.86 655.53L332.65 654.96L333.43 654.54L334.22 654.26L335 654.1" fill="none" stroke="#000" stroke-width="1.4" stroke-linejoin="round"/>
<rect x="256.6" y="594" width="78.4" height="67" fill="none" stroke="#787878" stroke-width=".8"/>
<path d="M256.6 661h1.4M335 661h-1.4M256.6 638.67h1.4M335 638.67h-1.4M256.6 616.33h1.4M335 616.33h-1.4M256.6 594h1.4M335 594h-1.4M256.6 594v1.4M256.6 661v-1.4M295.8 594v1.4M295.8 661v-1.4M335 594v1.4M335 661v-1.4" stroke="#787878" stroke-width=".6" fill="none"/>
<text x="255.4" y="663.6" font-size="7.3" font-weight="normal" text-anchor="end" fill="#1c1c1c" transform="rotate(0.05 255.4 663.6)">0</text>
<text x="255.4" y="641.27" font-size="7.3" font-weight="normal" text-anchor="end" fill="#1c1c1c" transform="rotate(0.05 255.4 641.27)">1</text>
<text x="255.4" y="618.93" font-size="7.3" font-weight="normal" text-anchor="end" fill="#1c1c1c" transform="rotate(0.05 255.4 618.93)">2</text>
<text x="255.4" y="596.6" font-size="7.3" font-weight="normal" text-anchor="end" fill="#1c1c1c" transform="rotate(0.05 255.4 596.6)">3</text>
<text x="256.4" y="670.5" font-size="7.3" font-weight="normal" text-anchor="middle" fill="#1c1c1c" transform="rotate(0.05 256.4 670.5)">0</text>
<text x="295" y="670.5" font-size="7.3" font-weight="normal" text-anchor="middle" fill="#1c1c1c" transform="rotate(0.05 295 670.5)">50</text>
<text x="335" y="670.5" font-size="7.3" font-weight="normal" text-anchor="middle" fill="#1c1c1c" transform="rotate(0.05 335 670.5)">100</text>
<text x="295.2" y="679.2" font-size="7.3" font-weight="normal" text-anchor="middle" fill="#1c1c1c" transform="rotate(0.05 295.2 679.2)">gait cycle [%]</text>
<text x="296" y="590.9" font-size="8.0" font-weight="bold" text-anchor="middle" fill="#0a0a0a" letter-spacing="-0.25" stroke="#0a0a0a" stroke-width=".15" transform="rotate(0.05 296 590.9)">CK3</text>
</g>
<g>
<path d="M404.11 413.89L409 415.09L404.11 415.79Z" fill="#8a8a8a" opacity=".85"/>
<path d="M401.5 420.88L412 422.08L401.5 422.78Z" fill="#8a8a8a" opacity=".85"/>
<path d="M397.6 427.87L403 429.07L397.6 429.77Z" fill="#8a8a8a" opacity=".85"/>
<path d="M397.99 434.86L403 436.06L397.99 436.76Z" fill="#8a8a8a" opacity=".85"/>
<path d="M401.11 441.85L406 443.05L401.11 443.75Z" fill="#8a8a8a" opacity=".85"/>
<path d="M397.6 448.84L401 450.04L397.6 450.74Z" fill="#8a8a8a" opacity=".85"/>
<path d="M401.5 462.82L406 464.02L401.5 464.72Z" fill="#8a8a8a" opacity=".85"/>
<path d="M406.1 476.8L414 478L406.1 478.7Z" fill="#8a8a8a" opacity=".85"/>
<path d="M401.5 483.8L413 485L401.5 485.7Z" fill="#8a8a8a" opacity=".85"/>
<path d="M402.09 490.79L413 491.99L402.09 492.69Z" fill="#8a8a8a" opacity=".85"/>
<path d="M406.69 497.78L414 498.98L406.69 499.68Z" fill="#8a8a8a" opacity=".85"/>
<path d="M398.38 504.77L401 505.97L398.38 506.67Z" fill="#8a8a8a" opacity=".85"/>
<path d="M397.6 511.76L400 512.96L397.6 513.66Z" fill="#8a8a8a" opacity=".85"/>
<path d="M397.6 525.74L409 526.94L397.6 527.64Z" fill="#8a8a8a" opacity=".85"/>
<path d="M397.6 521.24L384 521.84L397.6 523.14Z" fill="#8a8a8a" opacity=".85"/>
<path d="M379.5 528.23L372 528.83L379.5 530.13Z" fill="#8a8a8a" opacity=".85"/>
<path d="M382.9 535.22L366 535.82L382.9 537.12Z" fill="#8a8a8a" opacity=".85"/>
<path d="M384.34 542.21L365 542.81L384.34 544.11Z" fill="#8a8a8a" opacity=".85"/>
<line x1="397.6" y1="405.6" x2="397.6" y2="552.4" stroke="#8a8a8a" stroke-width=".7"/>
<rect x="397.6" y="409.79" width="6.91" height="5.59" fill="#bababa" stroke="#000" stroke-width="1.75"/>
<line x1="398.5" y1="412.59" x2="403.61" y2="412.59" stroke="#dedede" stroke-width=".8"/>
<rect x="397.6" y="416.78" width="4.3" height="5.59" fill="#bababa" stroke="#000" stroke-width="1.75"/>
<line x1="398.5" y1="419.58" x2="401" y2="419.58" stroke="#dedede" stroke-width=".8"/>
<rect x="397.6" y="430.77" width="0.79" height="5.59" fill="#bababa" stroke="#000" stroke-width="1.75"/>
<rect x="397.6" y="437.76" width="3.91" height="5.59" fill="#bababa" stroke="#000" stroke-width="1.75"/>
<line x1="398.5" y1="440.55" x2="400.61" y2="440.55" stroke="#dedede" stroke-width=".8"/>
<rect x="397.6" y="458.73" width="4.3" height="5.59" fill="#bababa" stroke="#000" stroke-width="1.75"/>
<line x1="398.5" y1="461.52" x2="401" y2="461.52" stroke="#dedede" stroke-width=".8"/>
<rect x="397.6" y="472.71" width="8.9" height="5.59" fill="#bababa" stroke="#000" stroke-width="1.75"/>
<line x1="398.5" y1="475.5" x2="405.6" y2="475.5" stroke="#dedede" stroke-width=".8"/>
<rect x="397.6" y="479.7" width="4.3" height="5.59" fill="#bababa" stroke="#000" stroke-width="1.75"/>
<line x1="398.5" y1="482.5" x2="401" y2="482.5" stroke="#dedede" stroke-width=".8"/>
<rect x="397.6" y="486.69" width="4.88" height="5.59" fill="#bababa" stroke="#000" stroke-width="1.75"/>
<line x1="398.5" y1="489.49" x2="401.59" y2="489.49" stroke="#dedede" stroke-width=".8"/>
<rect x="397.6" y="493.68" width="9.49" height="5.59" fill="#bababa" stroke="#000" stroke-width="1.75"/>
<line x1="398.5" y1="496.48" x2="406.19" y2="496.48" stroke="#dedede" stroke-width=".8"/>
<rect x="397.6" y="500.67" width="1.18" height="5.59" fill="#bababa" stroke="#000" stroke-width="1.75"/>
<rect x="379.1" y="528.63" width="18.5" height="5.59" fill="#bababa" stroke="#000" stroke-width="1.75"/>
<line x1="380" y1="531.43" x2="396.7" y2="531.43" stroke="#dedede" stroke-width=".8"/>
<rect x="382.5" y="535.62" width="15.1" height="5.59" fill="#bababa" stroke="#000" stroke-width="1.75"/>
<line x1="383.4" y1="538.42" x2="396.7" y2="538.42" stroke="#dedede" stroke-width=".8"/>
<rect x="383.94" y="542.61" width="13.66" height="5.59" fill="#bababa" stroke="#000" stroke-width="1.75"/>
<line x1="384.84" y1="545.41" x2="396.7" y2="545.41" stroke="#dedede" stroke-width=".8"/>
<line x1="397.45" y1="409.04" x2="397.45" y2="548.96" stroke="#000" stroke-width="1.95"/>
<rect x="358.4" y="405.6" width="78" height="146.8" fill="none" stroke="#6c6c6c" stroke-width=".65"/>
<path d="M358.4 412.59h1.3M436.4 412.59h-1.3M358.4 419.58h1.3M436.4 419.58h-1.3M358.4 426.57h1.3M436.4 426.57h-1.3M358.4 433.56h1.3M436.4 433.56h-1.3M358.4 440.55h1.3M436.4 440.55h-1.3M358.4 447.54h1.3M436.4 447.54h-1.3M358.4 454.53h1.3M436.4 454.53h-1.3M358.4 461.52h1.3M436.4 461.52h-1.3M358.4 468.51h1.3M436.4 468.51h-1.3M358.4 475.5h1.3M436.4 475.5h-1.3M358.4 482.5h1.3M436.4 482.5h-1.3M358.4 489.49h1.3M436.4 489.49h-1.3M358.4 496.48h1.3M436.4 496.48h-1.3M358.4 503.47h1.3M436.4 503.47h-1.3M358.4 510.46h1.3M436.4 510.46h-1.3M358.4 517.45h1.3M436.4 517.45h-1.3M358.4 524.44h1.3M436.4 524.44h-1.3M358.4 531.43h1.3M436.4 531.43h-1.3M358.4 538.42h1.3M436.4 538.42h-1.3M358.4 545.41h1.3M436.4 545.41h-1.3M358.4 405.6v1.3M358.4 552.4v-1.3M397.6 405.6v1.3M397.6 552.4v-1.3M436.4 405.6v1.3M436.4 552.4v-1.3" stroke="#5a5a5a" stroke-width=".65" fill="none"/>
<text x="361" y="561.3" font-size="7.3" font-weight="normal" text-anchor="middle" fill="#1c1c1c" transform="rotate(0.05 361 561.3)">−1</text>
<text x="401" y="561.3" font-size="7.3" font-weight="normal" text-anchor="middle" fill="#1c1c1c" transform="rotate(0.05 401 561.3)">0</text>
<text x="440" y="561.3" font-size="7.3" font-weight="normal" text-anchor="middle" fill="#1c1c1c" transform="rotate(0.05 440 561.3)">1</text>
<text x="397.6" y="401.5" font-size="8.0" font-weight="bold" text-anchor="middle" fill="#0a0a0a" letter-spacing="-0.25" stroke="#0a0a0a" stroke-width=".15" transform="rotate(0.05 397.6 401.5)">K4</text>
</g>
<g>
<path d="M358.4 653.28L359.18 651.96L359.96 650.34L360.74 648.79L361.52 647.56L362.3 646.65L363.08 645.94L363.86 645.4L364.64 645L365.42 644.78L366.2 644.73L366.98 644.85L367.76 645.08L368.54 645.4L369.32 645.79L370.1 646.28L370.88 646.89L371.66 647.64L372.44 648.45L373.22 649.25L374 649.93L374.78 650.47L375.56 650.87L376.34 651.2L377.12 651.47L377.9 651.69L378.68 651.85L379.46 651.94L380.24 651.99L381.02 652L381.8 652L382.58 652L383.36 652L384.14 652L384.92 652L385.7 651.97L386.48 651.89L387.26 651.72L388.04 651.46L388.82 651.12L389.6 650.64L390.38 649.98L391.16 649.07L391.94 647.96L392.72 646.76L393.5 645.61L394.28 644.59L395.06 643.85L395.84 643.6L396.62 644.02L397.4 645.07L398.18 646.54L398.96 648.22L399.74 650L400.52 651.66L401.3 652.88L402.08 653.37L402.86 653.05L403.64 651.89L404.42 649.84L405.2 646.92L405.98 643.5L406.76 640.07L407.54 637.01L408.32 634.38L409.1 632.18L409.88 630.4L410.66 629.02L411.44 627.98L412.22 627.23L413 626.73L413.78 626.44L414.56 626.26L415.34 626.15L416.12 626.08L416.9 626.09L417.68 626.21L418.46 626.46L419.24 626.85L420.02 627.36L420.8 628.03L421.58 628.91L422.36 630.06L423.14 631.44L423.92 633L424.7 634.69L425.48 636.48L426.26 638.31L427.04 640.13L427.82 641.89L428.6 643.52L429.38 644.91L430.16 646L430.94 646.82L431.72 647.39L432.5 647.7L433.28 647.69L434.06 647.29L434.84 646.49L435.62 645.52L436.4 644.65L436.4 660.16L435.62 660.37L434.84 660.62L434.06 660.82L433.28 660.92L432.5 660.94L431.72 660.89L430.94 660.75L430.16 660.44L429.38 659.83L428.6 658.86L427.82 657.57L427.04 656.07L426.26 654.46L425.48 652.76L424.7 651.02L423.92 649.27L423.14 647.56L422.36 646.04L421.58 644.92L420.8 644.29L420.02 644.07L419.24 644.05L418.46 644.1L417.68 644.16L416.9 644.28L416.12 644.49L415.34 644.83L414.56 645.31L413.78 645.94L413 646.78L412.22 647.95L411.44 649.46L410.66 651.28L409.88 653.37L409.1 655.66L408.32 657.85L407.54 659.57L406.76 660.55L405.98 660.93L405.2 661L404.42 661L403.64 661L402.86 661L402.08 660.99L401.3 660.95L400.52 660.87L399.74 660.71L398.96 660.39L398.18 659.81L397.4 659.02L396.62 658.22L395.84 657.61L395.06 657.26L394.28 657.14L393.5 657.23L392.72 657.54L391.94 658L391.16 658.54L390.38 659.05L389.6 659.47L388.82 659.82L388.04 660.11L387.26 660.33L386.48 660.49L385.7 660.57L384.92 660.6L384.14 660.6L383.36 660.6L382.58 660.6L381.8 660.6L381.02 660.6L380.24 660.61L379.46 660.63L378.68 660.68L377.9 660.74L377.12 660.82L376.34 660.9L375.56 660.95L374.78 660.97L374 660.94L373.22 660.89L372.44 660.81L371.66 660.73L370.88 660.67L370.1 660.62L369.32 660.61L368.54 660.6L367.76 660.6L366.98 660.6L366.2 660.59L365.42 660.56L364.64 660.5L363.86 660.4L363.08 660.27L362.3 660.09L361.52 659.84L360.74 659.51L359.96 659.08L359.18 658.63L358.4 658.26Z" fill="#cfcfcf"/>
<path d="M358.4 655.7L359.18 655.27L359.96 654.74L360.74 654.22L361.52 653.79L362.3 653.45L363.08 653.17L363.86 652.94L364.64 652.77L365.42 652.68L366.2 652.67L366.98 652.75L367.76 652.88L368.54 653.06L369.32 653.28L370.1 653.52L370.88 653.81L371.66 654.14L372.44 654.49L373.22 654.83L374 655.12L374.78 655.35L375.56 655.52L376.34 655.66L377.12 655.77L377.9 655.87L378.68 655.94L379.46 655.98L380.24 656L381.02 656L381.8 656L382.58 656L383.36 656L384.14 656L384.92 656L385.7 655.97L386.48 655.88L387.26 655.7L388.04 655.44L388.82 655.1L389.6 654.67L390.38 654.13L391.16 653.44L391.94 652.67L392.72 651.94L393.5 651.36L394.28 650.98L395.06 650.8L395.84 650.87L396.62 651.27L397.4 652.01L398.18 653.01L398.96 654.14L399.74 655.33L400.52 656.44L401.3 657.28L402.08 657.69L402.86 657.68L403.64 657.24L404.42 656.29L405.2 654.76L405.98 652.75L406.76 650.46L407.54 648.06L408.32 645.65L409.1 643.39L409.88 641.4L410.66 639.76L411.44 638.45L412.22 637.45L413 636.75L413.78 636.29L414.56 635.98L415.34 635.75L416.12 635.57L416.9 635.43L417.68 635.31L418.46 635.2L419.24 635.12L420.02 635.09L420.8 635.21L421.58 635.64L422.36 636.44L423.14 637.62L423.92 639.13L424.7 640.94L425.48 642.96L426.26 645.02L427.04 646.91L427.82 648.55L428.6 649.93L429.38 651.12L430.16 652.12L430.94 652.97L431.72 653.64L432.5 654.09L433.28 654.29L434.06 654.31L434.84 654.18L435.62 653.98L436.4 653.77" fill="none" stroke="#000" stroke-width="1.4" stroke-linejoin="round"/>
<rect x="358.4" y="594" width="78" height="67" fill="none" stroke="#787878" stroke-width=".8"/>
<path d="M358.4 661h1.4M436.4 661h-1.4M358.4 638.67h1.4M436.4 638.67h-1.4M358.4 616.33h1.4M436.4 616.33h-1.4M358.4 594h1.4M436.4 594h-1.4M358.4 594v1.4M358.4 661v-1.4M397.4 594v1.4M397.4 661v-1.4M436.4 594v1.4M436.4 661v-1.4" stroke="#787878" stroke-width=".6" fill="none"/>
<text x="357.4" y="663.6" font-size="7.3" font-weight="normal" text-anchor="end" fill="#1c1c1c" transform="rotate(0.05 357.4 663.6)">0</text>
<text x="357.4" y="641.27" font-size="7.3" font-weight="normal" text-anchor="end" fill="#1c1c1c" transform="rotate(0.05 357.4 641.27)">1</text>
<text x="357.4" y="618.93" font-size="7.3" font-weight="normal" text-anchor="end" fill="#1c1c1c" transform="rotate(0.05 357.4 618.93)">2</text>
<text x="357.4" y="596.6" font-size="7.3" font-weight="normal" text-anchor="end" fill="#1c1c1c" transform="rotate(0.05 357.4 596.6)">3</text>
<text x="358.4" y="670.5" font-size="7.3" font-weight="normal" text-anchor="middle" fill="#1c1c1c" transform="rotate(0.05 358.4 670.5)">0</text>
<text x="397" y="670.5" font-size="7.3" font-weight="normal" text-anchor="middle" fill="#1c1c1c" transform="rotate(0.05 397 670.5)">50</text>
<text x="437" y="670.5" font-size="7.3" font-weight="normal" text-anchor="middle" fill="#1c1c1c" transform="rotate(0.05 437 670.5)">100</text>
<text x="397.2" y="679.2" font-size="7.3" font-weight="normal" text-anchor="middle" fill="#1c1c1c" transform="rotate(0.05 397.2 679.2)">gait cycle [%]</text>
<text x="397.6" y="590.9" font-size="8.0" font-weight="bold" text-anchor="middle" fill="#0a0a0a" letter-spacing="-0.25" stroke="#0a0a0a" stroke-width=".15" transform="rotate(0.05 397.6 590.9)">CK4</text>
</g>
<g>
<path d="M502.31 413.89L508 415.09L502.31 415.79Z" fill="#8a8a8a" opacity=".85"/>
<path d="M507.08 427.87L514 429.07L507.08 429.77Z" fill="#8a8a8a" opacity=".85"/>
<path d="M509.29 434.86L517 436.06L509.29 436.76Z" fill="#8a8a8a" opacity=".85"/>
<path d="M504.09 441.85L515 443.05L504.09 443.75Z" fill="#8a8a8a" opacity=".85"/>
<path d="M499.4 448.84L510 450.04L499.4 450.74Z" fill="#8a8a8a" opacity=".85"/>
<path d="M501.88 455.83L508 457.03L501.88 457.73Z" fill="#8a8a8a" opacity=".85"/>
<path d="M507.08 462.82L511 464.02L507.08 464.72Z" fill="#8a8a8a" opacity=".85"/>
<path d="M502.31 469.81L515 471.01L502.31 471.71Z" fill="#8a8a8a" opacity=".85"/>
<path d="M502.5 476.8L511 478L502.5 478.7Z" fill="#8a8a8a" opacity=".85"/>
<path d="M499.4 483.8L504 485L499.4 485.7Z" fill="#8a8a8a" opacity=".85"/>
<path d="M499.4 490.79L503 491.99L499.4 492.69Z" fill="#8a8a8a" opacity=".85"/>
<path d="M503.51 497.78L511 498.98L503.51 499.68Z" fill="#8a8a8a" opacity=".85"/>
<path d="M499.4 504.77L502 505.97L499.4 506.67Z" fill="#8a8a8a" opacity=".85"/>
<path d="M499.79 511.76L508 512.96L499.79 513.66Z" fill="#8a8a8a" opacity=".85"/>
<path d="M499.4 518.75L504 519.95L499.4 520.65Z" fill="#8a8a8a" opacity=".85"/>
<path d="M493.31 521.24L484 521.84L493.31 523.14Z" fill="#8a8a8a" opacity=".85"/>
<path d="M517.71 532.73L527 533.93L517.71 534.63Z" fill="#8a8a8a" opacity=".85"/>
<path d="M499.4 539.72L508 540.92L499.4 541.62Z" fill="#8a8a8a" opacity=".85"/>
<path d="M499.4 535.22L486 535.82L499.4 537.12Z" fill="#8a8a8a" opacity=".85"/>
<path d="M516.7 546.71L528 547.91L516.7 548.61Z" fill="#8a8a8a" opacity=".85"/>
<line x1="499.4" y1="405.6" x2="499.4" y2="552.4" stroke="#8a8a8a" stroke-width=".7"/>
<rect x="499.4" y="409.79" width="3.31" height="5.59" fill="#bababa" stroke="#000" stroke-width="1.75"/>
<line x1="500.3" y1="412.59" x2="501.81" y2="412.59" stroke="#dedede" stroke-width=".8"/>
<rect x="499.4" y="423.78" width="8.08" height="5.59" fill="#bababa" stroke="#000" stroke-width="1.75"/>
<line x1="500.3" y1="426.57" x2="506.58" y2="426.57" stroke="#dedede" stroke-width=".8"/>
<rect x="499.4" y="430.77" width="10.29" height="5.59" fill="#bababa" stroke="#000" stroke-width="1.75"/>
<line x1="500.3" y1="433.56" x2="508.79" y2="433.56" stroke="#dedede" stroke-width=".8"/>
<rect x="499.4" y="437.76" width="5.09" height="5.59" fill="#bababa" stroke="#000" stroke-width="1.75"/>
<line x1="500.3" y1="440.55" x2="503.59" y2="440.55" stroke="#dedede" stroke-width=".8"/>
<rect x="499.4" y="451.74" width="2.88" height="5.59" fill="#bababa" stroke="#000" stroke-width="1.75"/>
<line x1="500.3" y1="454.53" x2="501.38" y2="454.53" stroke="#dedede" stroke-width=".8"/>
<rect x="499.4" y="458.73" width="8.08" height="5.59" fill="#bababa" stroke="#000" stroke-width="1.75"/>
<line x1="500.3" y1="461.52" x2="506.58" y2="461.52" stroke="#dedede" stroke-width=".8"/>
<rect x="499.4" y="465.72" width="3.31" height="5.59" fill="#bababa" stroke="#000" stroke-width="1.75"/>
<line x1="500.3" y1="468.51" x2="501.81" y2="468.51" stroke="#dedede" stroke-width=".8"/>
<rect x="499.4" y="472.71" width="3.5" height="5.59" fill="#bababa" stroke="#000" stroke-width="1.75"/>
<line x1="500.3" y1="475.5" x2="502" y2="475.5" stroke="#dedede" stroke-width=".8"/>
<rect x="499.4" y="493.68" width="4.51" height="5.59" fill="#bababa" stroke="#000" stroke-width="1.75"/>
<line x1="500.3" y1="496.48" x2="503.01" y2="496.48" stroke="#dedede" stroke-width=".8"/>
<rect x="499.4" y="507.66" width="0.79" height="5.59" fill="#bababa" stroke="#000" stroke-width="1.75"/>
<rect x="492.91" y="521.64" width="6.49" height="5.59" fill="#bababa" stroke="#000" stroke-width="1.75"/>
<line x1="493.81" y1="524.44" x2="498.5" y2="524.44" stroke="#dedede" stroke-width=".8"/>
<rect x="499.4" y="528.63" width="18.71" height="5.59" fill="#bababa" stroke="#000" stroke-width="1.75"/>
<line x1="500.3" y1="531.43" x2="517.21" y2="531.43" stroke="#dedede" stroke-width=".8"/>
<rect x="499.4" y="542.61" width="17.7" height="5.59" fill="#bababa" stroke="#000" stroke-width="1.75"/>
<line x1="500.3" y1="545.41" x2="516.2" y2="545.41" stroke="#dedede" stroke-width=".8"/>
<line x1="499.25" y1="409.04" x2="499.25" y2="548.96" stroke="#000" stroke-width="1.95"/>
<rect x="460.4" y="405.6" width="77.6" height="146.8" fill="none" stroke="#6c6c6c" stroke-width=".65"/>
<path d="M460.4 412.59h1.3M538 412.59h-1.3M460.4 419.58h1.3M538 419.58h-1.3M460.4 426.57h1.3M538 426.57h-1.3M460.4 433.56h1.3M538 433.56h-1.3M460.4 440.55h1.3M538 440.55h-1.3M460.4 447.54h1.3M538 447.54h-1.3M460.4 454.53h1.3M538 454.53h-1.3M460.4 461.52h1.3M538 461.52h-1.3M460.4 468.51h1.3M538 468.51h-1.3M460.4 475.5h1.3M538 475.5h-1.3M460.4 482.5h1.3M538 482.5h-1.3M460.4 489.49h1.3M538 489.49h-1.3M460.4 496.48h1.3M538 496.48h-1.3M460.4 503.47h1.3M538 503.47h-1.3M460.4 510.46h1.3M538 510.46h-1.3M460.4 517.45h1.3M538 517.45h-1.3M460.4 524.44h1.3M538 524.44h-1.3M460.4 531.43h1.3M538 531.43h-1.3M460.4 538.42h1.3M538 538.42h-1.3M460.4 545.41h1.3M538 545.41h-1.3M460.4 405.6v1.3M460.4 552.4v-1.3M499.4 405.6v1.3M499.4 552.4v-1.3M538 405.6v1.3M538 552.4v-1.3" stroke="#5a5a5a" stroke-width=".65" fill="none"/>
<text x="464" y="561.3" font-size="7.3" font-weight="normal" text-anchor="middle" fill="#1c1c1c" transform="rotate(0.05 464 561.3)">−1</text>
<text x="505" y="561.3" font-size="7.3" font-weight="normal" text-anchor="middle" fill="#1c1c1c" transform="rotate(0.05 505 561.3)">0</text>
<text x="544" y="561.3" font-size="7.3" font-weight="normal" text-anchor="middle" fill="#1c1c1c" transform="rotate(0.05 544 561.3)">1</text>
<text x="499.4" y="401.5" font-size="8.0" font-weight="bold" text-anchor="middle" fill="#0a0a0a" letter-spacing="-0.25" stroke="#0a0a0a" stroke-width=".15" transform="rotate(0.05 499.4 401.5)">K5</text>
</g>
<g>
<path d="M460.4 636.99L461.18 637.79L461.95 638.73L462.73 639.6L463.5 640.24L464.28 640.71L465.06 641.06L465.83 641.31L466.61 641.5L467.38 641.63L468.16 641.74L468.94 641.85L469.71 641.99L470.49 642.18L471.26 642.42L472.04 642.7L472.82 642.99L473.59 643.26L474.37 643.49L475.14 643.69L475.92 643.82L476.7 643.8L477.47 643.53L478.25 643.04L479.02 642.58L479.8 642.42L480.58 642.7L481.35 643.41L482.13 644.47L482.9 645.86L483.68 647.4L484.46 648.86L485.23 650.02L486.01 650.86L486.78 651.41L487.56 651.69L488.34 651.6L489.11 651.13L489.89 650.36L490.66 649.41L491.44 648.39L492.22 647.32L492.99 646.29L493.77 645.36L494.54 644.59L495.32 644.01L496.1 643.65L496.87 643.51L497.65 643.53L498.42 643.65L499.2 643.84L499.98 644.16L500.75 644.69L501.53 645.48L502.3 646.49L503.08 647.62L503.86 648.8L504.63 650.01L505.41 651.24L506.18 652.47L506.96 653.61L507.74 654.6L508.51 655.41L509.29 656.07L510.06 656.53L510.84 656.71L511.62 656.51L512.39 655.94L513.17 655.04L513.94 653.82L514.72 652.28L515.5 650.5L516.27 648.73L517.05 647.23L517.82 646.15L518.6 645.6L519.38 645.68L520.15 646.36L520.93 647.38L521.7 648.45L522.48 649.35L523.26 650.04L524.03 650.5L524.81 650.63L525.58 650.27L526.36 649.33L527.14 647.82L527.91 645.68L528.69 642.79L529.46 639.19L530.24 635.17L531.02 631.13L531.79 627.34L532.57 624.01L533.34 621.28L534.12 619.28L534.9 618.04L535.67 617.55L536.45 617.8L537.22 618.51L538 619.33L538 641.05L537.22 639.84L536.45 638.67L535.67 637.97L534.9 638.01L534.12 638.69L533.34 639.98L532.57 641.89L531.79 644.29L531.02 647L530.24 649.81L529.46 652.52L528.69 654.89L527.91 656.73L527.14 658.03L526.36 658.93L525.58 659.55L524.81 659.98L524.03 660.25L523.26 660.42L522.48 660.51L521.7 660.49L520.93 660.38L520.15 660.23L519.38 660.13L518.6 660.12L517.82 660.22L517.05 660.39L516.27 660.58L515.5 660.75L514.72 660.88L513.94 660.96L513.17 660.99L512.39 661L511.62 661L510.84 661L510.06 661L509.29 661L508.51 661L507.74 661L506.96 661L506.18 661L505.41 661L504.63 660.99L503.86 660.96L503.08 660.89L502.3 660.77L501.53 660.6L500.75 660.39L499.98 660.13L499.2 659.8L498.42 659.42L497.65 659.06L496.87 658.81L496.1 658.71L495.32 658.76L494.54 658.9L493.77 659.11L492.99 659.39L492.22 659.69L491.44 660.01L490.66 660.3L489.89 660.57L489.11 660.77L488.34 660.9L487.56 660.94L486.78 660.89L486.01 660.77L485.23 660.55L484.46 660.17L483.68 659.6L482.9 658.89L482.13 658.12L481.35 657.36L480.58 656.74L479.8 656.45L479.02 656.62L478.25 657.2L477.47 658.02L476.7 658.87L475.92 659.65L475.14 660.28L474.37 660.71L473.59 660.93L472.82 660.99L472.04 661L471.26 661L470.49 661L469.71 660.98L468.94 660.95L468.16 660.9L467.38 660.8L466.61 660.58L465.83 660.02L465.06 658.92L464.28 657.3L463.5 655.4L462.73 653.47L461.95 651.62L461.18 650.01L460.4 648.81Z" fill="#cfcfcf"/>
<path d="M460.4 642.91L461.18 643.91L461.95 645.18L462.73 646.5L463.5 647.68L464.28 648.72L465.06 649.62L465.83 650.37L466.61 650.96L467.38 651.45L468.16 651.84L468.94 652.13L469.71 652.3L470.49 652.35L471.26 652.34L472.04 652.27L472.82 652.17L473.59 652L474.37 651.71L475.14 651.27L475.92 650.76L476.7 650.27L477.47 649.91L478.25 649.66L479.02 649.57L479.8 649.7L480.58 650.1L481.35 650.76L482.13 651.59L482.9 652.51L483.68 653.45L484.46 654.35L485.23 655.15L486.01 655.84L486.78 656.38L487.56 656.71L488.34 656.77L489.11 656.56L489.89 656.14L490.66 655.56L491.44 654.82L492.22 653.95L492.99 653.08L493.77 652.37L494.54 651.9L495.32 651.63L496.1 651.54L496.87 651.62L497.65 651.88L498.42 652.31L499.2 652.83L499.98 653.42L500.75 654.07L501.53 654.77L502.3 655.5L503.08 656.21L503.86 656.83L504.63 657.38L505.41 657.85L506.18 658.27L506.96 658.61L507.74 658.88L508.51 659.08L509.29 659.22L510.06 659.3L510.84 659.27L511.62 659.08L512.39 658.67L513.17 658.09L513.94 657.37L514.72 656.55L515.5 655.67L516.27 654.82L517.05 654.09L517.82 653.57L518.6 653.28L519.38 653.26L520.15 653.48L520.93 653.84L521.7 654.2L522.48 654.5L523.26 654.72L524.03 654.84L524.81 654.79L525.58 654.43L526.36 653.67L527.14 652.46L527.91 650.76L528.69 648.48L529.46 645.61L530.24 642.35L531.02 638.92L531.79 635.57L532.57 632.58L533.34 630.25L534.12 628.75L534.9 628.01L535.67 627.97L536.45 628.67L537.22 629.84L538 631.05" fill="none" stroke="#000" stroke-width="1.4" stroke-linejoin="round"/>
<rect x="460.4" y="594" width="77.6" height="67" fill="none" stroke="#787878" stroke-width=".8"/>
<path d="M460.4 661h1.4M538 661h-1.4M460.4 638.67h1.4M538 638.67h-1.4M460.4 616.33h1.4M538 616.33h-1.4M460.4 594h1.4M538 594h-1.4M460.4 594v1.4M460.4 661v-1.4M499.2 594v1.4M499.2 661v-1.4M538 594v1.4M538 661v-1.4" stroke="#787878" stroke-width=".6" fill="none"/>
<text x="459.4" y="663.6" font-size="7.3" font-weight="normal" text-anchor="end" fill="#1c1c1c" transform="rotate(0.05 459.4 663.6)">0</text>
<text x="459.4" y="641.27" font-size="7.3" font-weight="normal" text-anchor="end" fill="#1c1c1c" transform="rotate(0.05 459.4 641.27)">1</text>
<text x="459.4" y="618.93" font-size="7.3" font-weight="normal" text-anchor="end" fill="#1c1c1c" transform="rotate(0.05 459.4 618.93)">2</text>
<text x="459.4" y="596.6" font-size="7.3" font-weight="normal" text-anchor="end" fill="#1c1c1c" transform="rotate(0.05 459.4 596.6)">3</text>
<text x="460.4" y="670.5" font-size="7.3" font-weight="normal" text-anchor="middle" fill="#1c1c1c" transform="rotate(0.05 460.4 670.5)">0</text>
<text x="499" y="670.5" font-size="7.3" font-weight="normal" text-anchor="middle" fill="#1c1c1c" transform="rotate(0.05 499 670.5)">50</text>
<text x="539" y="670.5" font-size="7.3" font-weight="normal" text-anchor="middle" fill="#1c1c1c" transform="rotate(0.05 539 670.5)">100</text>
<text x="499.2" y="679.2" font-size="7.3" font-weight="normal" text-anchor="middle" fill="#1c1c1c" transform="rotate(0.05 499.2 679.2)">gait cycle [%]</text>
<text x="499.4" y="590.9" font-size="8.0" font-weight="bold" text-anchor="middle" fill="#0a0a0a" letter-spacing="-0.25" stroke="#0a0a0a" stroke-width=".15" transform="rotate(0.05 499.4 590.9)">CK5</text>
</g>
</svg>
</body></html>
